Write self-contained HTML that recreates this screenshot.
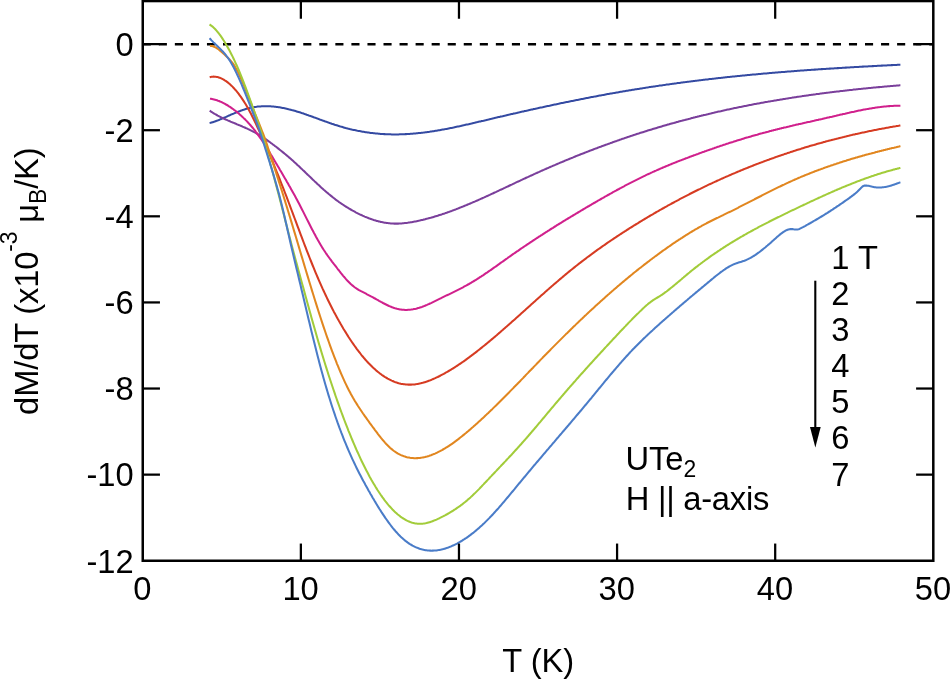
<!DOCTYPE html>
<html lang="en"><head><meta charset="utf-8"><title>dM/dT vs T for UTe2</title>
<style>html,body{margin:0;padding:0;background:#fff;overflow:hidden}svg{display:block;position:absolute;left:0;top:0}text{font-family:"Liberation Sans", Arial, Helvetica, sans-serif;fill:#000}</style></head><body>
<svg width="950" height="679" viewBox="0 0 950 679">
<rect x="0" y="0" width="950" height="679" fill="#fff"/>
<line x1="142.75" y1="44.22" x2="933.30" y2="44.22" stroke="#000" stroke-width="2.4" stroke-dasharray="8.1 7.95"/>
<g fill="none" stroke-width="2.05" stroke-linejoin="round" stroke-linecap="butt">
<path stroke="#344aa2" d="M209.6 123.0 L210.6 122.8 L211.6 122.5 L212.6 122.2 L213.6 121.9 L214.6 121.6 L215.6 121.2 L216.6 120.8 L217.6 120.5 L218.6 120.1 L219.6 119.7 L220.6 119.2 L221.6 118.8 L222.6 118.4 L223.6 118.0 L224.6 117.5 L225.6 117.1 L226.6 116.6 L227.6 116.2 L228.6 115.7 L229.6 115.3 L230.6 114.8 L231.6 114.4 L232.6 114.0 L233.6 113.6 L234.6 113.1 L235.6 112.7 L236.6 112.3 L237.6 111.9 L238.6 111.5 L239.6 111.2 L240.6 110.8 L241.6 110.4 L242.6 110.1 L243.6 109.8 L244.6 109.4 L245.6 109.1 L246.6 108.8 L247.6 108.6 L248.6 108.3 L249.6 108.1 L250.6 107.8 L251.6 107.6 L252.6 107.4 L253.6 107.2 L254.6 107.0 L255.6 106.9 L256.6 106.8 L257.6 106.6 L258.6 106.5 L259.6 106.4 L260.6 106.4 L261.6 106.3 L262.6 106.2 L263.6 106.2 L264.6 106.2 L265.6 106.2 L266.6 106.2 L267.6 106.2 L268.6 106.2 L269.6 106.3 L270.6 106.3 L271.6 106.4 L272.6 106.5 L273.6 106.6 L274.6 106.7 L275.6 106.8 L276.6 106.9 L277.6 107.0 L278.6 107.2 L279.6 107.3 L280.6 107.5 L281.6 107.7 L282.6 107.9 L283.6 108.1 L284.6 108.3 L285.6 108.5 L286.6 108.7 L287.6 108.9 L288.6 109.2 L289.6 109.4 L290.6 109.7 L291.6 110.0 L292.6 110.2 L293.6 110.5 L294.6 110.8 L295.6 111.1 L296.6 111.4 L297.6 111.7 L298.6 112.0 L299.6 112.3 L300.6 112.6 L301.6 113.0 L302.6 113.3 L303.6 113.6 L304.6 114.0 L305.6 114.3 L306.6 114.7 L307.6 115.0 L308.6 115.4 L309.6 115.7 L310.6 116.1 L311.6 116.4 L312.6 116.8 L313.6 117.2 L314.6 117.5 L315.6 117.9 L316.6 118.3 L317.6 118.6 L318.6 119.0 L319.6 119.4 L320.6 119.7 L321.6 120.1 L322.6 120.5 L323.6 120.8 L324.6 121.2 L325.6 121.5 L326.6 121.9 L327.6 122.3 L328.6 122.6 L329.6 123.0 L330.6 123.3 L331.6 123.7 L332.6 124.0 L333.6 124.3 L334.6 124.7 L335.6 125.0 L336.6 125.3 L337.6 125.6 L338.6 125.9 L339.6 126.3 L340.6 126.6 L341.6 126.8 L342.6 127.1 L343.6 127.4 L344.6 127.7 L345.6 128.0 L346.6 128.2 L347.6 128.5 L348.6 128.7 L349.6 129.0 L350.6 129.2 L351.6 129.5 L352.6 129.7 L353.6 129.9 L354.6 130.1 L355.6 130.3 L356.6 130.6 L357.6 130.8 L358.6 130.9 L359.6 131.1 L360.6 131.3 L361.6 131.5 L362.6 131.7 L363.6 131.8 L364.6 132.0 L365.6 132.2 L366.6 132.3 L367.6 132.5 L368.6 132.6 L369.6 132.7 L370.6 132.9 L371.6 133.0 L372.6 133.1 L373.6 133.2 L374.6 133.3 L375.6 133.4 L376.6 133.5 L377.6 133.6 L378.6 133.7 L379.6 133.8 L380.6 133.9 L381.6 133.9 L382.6 134.0 L383.6 134.1 L384.6 134.1 L385.6 134.2 L386.6 134.2 L387.6 134.2 L388.6 134.3 L389.6 134.3 L390.6 134.3 L391.6 134.4 L392.6 134.4 L393.6 134.4 L394.6 134.4 L395.6 134.4 L396.6 134.4 L397.6 134.4 L398.6 134.4 L399.6 134.3 L400.6 134.3 L401.6 134.3 L402.6 134.3 L403.6 134.2 L404.6 134.2 L405.6 134.1 L406.6 134.1 L407.6 134.0 L408.6 134.0 L409.6 133.9 L410.6 133.8 L411.6 133.8 L412.6 133.7 L413.6 133.6 L414.6 133.5 L415.6 133.4 L416.6 133.3 L417.6 133.2 L418.6 133.1 L419.6 133.0 L420.6 132.9 L421.6 132.8 L422.6 132.7 L423.6 132.6 L424.6 132.4 L425.6 132.3 L426.6 132.2 L427.6 132.0 L428.6 131.9 L429.6 131.8 L430.6 131.6 L431.6 131.5 L432.6 131.3 L433.6 131.2 L434.6 131.0 L435.6 130.8 L436.6 130.7 L437.6 130.5 L438.6 130.3 L439.6 130.2 L440.6 130.0 L441.6 129.8 L442.6 129.6 L443.6 129.4 L444.6 129.2 L445.6 129.1 L446.6 128.9 L447.6 128.7 L448.6 128.5 L449.6 128.3 L450.6 128.1 L451.6 127.9 L452.6 127.7 L453.6 127.5 L454.6 127.2 L455.6 127.0 L456.6 126.8 L457.6 126.6 L458.6 126.4 L459.6 126.2 L460.6 126.0 L461.6 125.7 L462.6 125.5 L463.6 125.3 L464.6 125.1 L465.6 124.8 L466.6 124.6 L467.6 124.4 L468.6 124.2 L469.6 123.9 L470.6 123.7 L471.6 123.5 L472.6 123.2 L473.6 123.0 L474.6 122.8 L475.6 122.5 L476.6 122.3 L477.6 122.1 L478.6 121.8 L479.6 121.6 L480.6 121.4 L481.6 121.1 L482.6 120.9 L483.6 120.7 L484.6 120.4 L485.6 120.2 L486.6 119.9 L487.6 119.7 L488.6 119.5 L489.6 119.2 L490.6 119.0 L491.6 118.8 L492.6 118.5 L493.6 118.3 L494.6 118.0 L495.6 117.8 L496.6 117.6 L497.6 117.3 L498.6 117.1 L499.6 116.9 L500.6 116.6 L501.6 116.4 L502.6 116.2 L503.6 115.9 L504.6 115.7 L505.6 115.5 L506.6 115.2 L507.6 115.0 L508.6 114.8 L509.6 114.6 L510.6 114.3 L511.6 114.1 L512.6 113.9 L513.6 113.6 L514.6 113.4 L515.6 113.2 L516.6 113.0 L517.6 112.7 L518.6 112.5 L519.6 112.3 L520.6 112.0 L521.6 111.8 L522.6 111.6 L523.6 111.4 L524.6 111.1 L525.6 110.9 L526.6 110.7 L527.6 110.5 L528.6 110.2 L529.6 110.0 L530.6 109.8 L531.6 109.6 L532.6 109.4 L533.6 109.1 L534.6 108.9 L535.6 108.7 L536.6 108.5 L537.6 108.3 L538.6 108.0 L539.6 107.8 L540.6 107.6 L541.6 107.4 L542.6 107.2 L543.6 106.9 L544.6 106.7 L545.6 106.5 L546.6 106.3 L547.6 106.1 L548.6 105.9 L549.6 105.7 L550.6 105.4 L551.6 105.2 L552.6 105.0 L553.6 104.8 L554.6 104.6 L555.6 104.4 L556.6 104.2 L557.6 104.0 L558.6 103.8 L559.6 103.5 L560.6 103.3 L561.6 103.1 L562.6 102.9 L563.6 102.7 L564.6 102.5 L565.6 102.3 L566.6 102.1 L567.6 101.9 L568.6 101.7 L569.6 101.5 L570.6 101.3 L571.6 101.1 L572.6 100.9 L573.6 100.7 L574.6 100.5 L575.6 100.3 L576.6 100.1 L577.6 99.9 L578.6 99.7 L579.6 99.5 L580.6 99.3 L581.6 99.1 L582.6 98.9 L583.6 98.7 L584.6 98.5 L585.6 98.3 L586.6 98.1 L587.6 97.9 L588.6 97.7 L589.6 97.5 L590.6 97.3 L591.6 97.1 L592.6 96.9 L593.6 96.7 L594.6 96.6 L595.6 96.4 L596.6 96.2 L597.6 96.0 L598.6 95.8 L599.6 95.6 L600.6 95.4 L601.6 95.2 L602.6 95.1 L603.6 94.9 L604.6 94.7 L605.6 94.5 L606.6 94.3 L607.6 94.1 L608.6 94.0 L609.6 93.8 L610.6 93.6 L611.6 93.4 L612.6 93.2 L613.6 93.1 L614.6 92.9 L615.6 92.7 L616.6 92.5 L617.6 92.4 L618.6 92.2 L619.6 92.0 L620.6 91.8 L621.6 91.7 L622.6 91.5 L623.6 91.3 L624.6 91.2 L625.6 91.0 L626.6 90.8 L627.6 90.7 L628.6 90.5 L629.6 90.3 L630.6 90.2 L631.6 90.0 L632.6 89.8 L633.6 89.7 L634.6 89.5 L635.6 89.3 L636.6 89.2 L637.6 89.0 L638.6 88.9 L639.6 88.7 L640.6 88.5 L641.6 88.4 L642.6 88.2 L643.6 88.1 L644.6 87.9 L645.6 87.7 L646.6 87.6 L647.6 87.4 L648.6 87.3 L649.6 87.1 L650.6 87.0 L651.6 86.8 L652.6 86.7 L653.6 86.5 L654.6 86.4 L655.6 86.2 L656.6 86.1 L657.6 85.9 L658.6 85.8 L659.6 85.6 L660.6 85.5 L661.6 85.4 L662.6 85.2 L663.6 85.1 L664.6 84.9 L665.6 84.8 L666.6 84.6 L667.6 84.5 L668.6 84.4 L669.6 84.2 L670.6 84.1 L671.6 83.9 L672.6 83.8 L673.6 83.7 L674.6 83.5 L675.6 83.4 L676.6 83.3 L677.6 83.1 L678.6 83.0 L679.6 82.9 L680.6 82.7 L681.6 82.6 L682.6 82.5 L683.6 82.3 L684.6 82.2 L685.6 82.1 L686.6 81.9 L687.6 81.8 L688.6 81.7 L689.6 81.6 L690.6 81.4 L691.6 81.3 L692.6 81.2 L693.6 81.0 L694.6 80.9 L695.6 80.8 L696.6 80.7 L697.6 80.6 L698.6 80.4 L699.6 80.3 L700.6 80.2 L701.6 80.1 L702.6 79.9 L703.6 79.8 L704.6 79.7 L705.6 79.6 L706.6 79.5 L707.6 79.4 L708.6 79.2 L709.6 79.1 L710.6 79.0 L711.6 78.9 L712.6 78.8 L713.6 78.7 L714.6 78.6 L715.6 78.4 L716.6 78.3 L717.6 78.2 L718.6 78.1 L719.6 78.0 L720.6 77.9 L721.6 77.8 L722.6 77.7 L723.6 77.6 L724.6 77.5 L725.6 77.3 L726.6 77.2 L727.6 77.1 L728.6 77.0 L729.6 76.9 L730.6 76.8 L731.6 76.7 L732.6 76.6 L733.6 76.5 L734.6 76.4 L735.6 76.3 L736.6 76.2 L737.6 76.1 L738.6 76.0 L739.6 75.9 L740.6 75.8 L741.6 75.7 L742.6 75.6 L743.6 75.5 L744.6 75.4 L745.6 75.3 L746.6 75.2 L747.6 75.1 L748.6 75.0 L749.6 74.9 L750.6 74.8 L751.6 74.7 L752.6 74.6 L753.6 74.5 L754.6 74.4 L755.6 74.4 L756.6 74.3 L757.6 74.2 L758.6 74.1 L759.6 74.0 L760.6 73.9 L761.6 73.8 L762.6 73.7 L763.6 73.6 L764.6 73.5 L765.6 73.5 L766.6 73.4 L767.6 73.3 L768.6 73.2 L769.6 73.1 L770.6 73.0 L771.6 72.9 L772.6 72.8 L773.6 72.8 L774.6 72.7 L775.6 72.6 L776.6 72.5 L777.6 72.4 L778.6 72.3 L779.6 72.3 L780.6 72.2 L781.6 72.1 L782.6 72.0 L783.6 71.9 L784.6 71.9 L785.6 71.8 L786.6 71.7 L787.6 71.6 L788.6 71.5 L789.6 71.5 L790.6 71.4 L791.6 71.3 L792.6 71.2 L793.6 71.2 L794.6 71.1 L795.6 71.0 L796.6 70.9 L797.6 70.8 L798.6 70.8 L799.6 70.7 L800.6 70.6 L801.6 70.5 L802.6 70.5 L803.6 70.4 L804.6 70.3 L805.6 70.3 L806.6 70.2 L807.6 70.1 L808.6 70.0 L809.6 70.0 L810.6 69.9 L811.6 69.8 L812.6 69.8 L813.6 69.7 L814.6 69.6 L815.6 69.6 L816.6 69.5 L817.6 69.4 L818.6 69.3 L819.6 69.3 L820.6 69.2 L821.6 69.1 L822.6 69.1 L823.6 69.0 L824.6 68.9 L825.6 68.9 L826.6 68.8 L827.6 68.7 L828.6 68.7 L829.6 68.6 L830.6 68.6 L831.6 68.5 L832.6 68.4 L833.6 68.4 L834.6 68.3 L835.6 68.2 L836.6 68.2 L837.6 68.1 L838.6 68.1 L839.6 68.0 L840.6 67.9 L841.6 67.9 L842.6 67.8 L843.6 67.7 L844.6 67.7 L845.6 67.6 L846.6 67.6 L847.6 67.5 L848.6 67.4 L849.6 67.4 L850.6 67.3 L851.6 67.3 L852.6 67.2 L853.6 67.2 L854.6 67.1 L855.6 67.0 L856.6 67.0 L857.6 66.9 L858.6 66.9 L859.6 66.8 L860.6 66.8 L861.6 66.7 L862.6 66.6 L863.6 66.6 L864.6 66.5 L865.6 66.5 L866.6 66.4 L867.6 66.4 L868.6 66.3 L869.6 66.3 L870.6 66.2 L871.6 66.2 L872.6 66.1 L873.6 66.1 L874.6 66.0 L875.6 65.9 L876.6 65.9 L877.6 65.8 L878.6 65.8 L879.6 65.7 L880.6 65.7 L881.6 65.6 L882.6 65.6 L883.6 65.5 L884.6 65.5 L885.6 65.4 L886.6 65.4 L887.6 65.3 L888.6 65.3 L889.6 65.2 L890.6 65.2 L891.6 65.1 L892.6 65.1 L893.6 65.0 L894.6 65.0 L895.6 64.9 L896.6 64.9 L897.6 64.8 L898.6 64.8 L899.6 64.7 L900.4 64.7"/>
<path stroke="#7a3f9b" d="M209.7 110.7 L210.7 111.4 L211.7 112.0 L212.7 112.7 L213.7 113.3 L214.7 113.9 L215.7 114.4 L216.7 115.0 L217.7 115.6 L218.7 116.1 L219.7 116.6 L220.7 117.1 L221.7 117.6 L222.7 118.1 L223.7 118.6 L224.7 119.0 L225.7 119.5 L226.7 119.9 L227.7 120.4 L228.7 120.8 L229.7 121.2 L230.7 121.7 L231.7 122.1 L232.7 122.5 L233.7 122.9 L234.7 123.3 L235.7 123.7 L236.7 124.2 L237.7 124.6 L238.7 125.0 L239.7 125.4 L240.7 125.8 L241.7 126.2 L242.7 126.7 L243.7 127.1 L244.7 127.5 L245.7 128.0 L246.7 128.4 L247.7 128.9 L248.7 129.3 L249.7 129.8 L250.7 130.3 L251.7 130.8 L252.7 131.3 L253.7 131.9 L254.7 132.4 L255.7 132.9 L256.7 133.5 L257.7 134.1 L258.7 134.7 L259.7 135.3 L260.7 135.9 L261.7 136.6 L262.7 137.2 L263.7 137.9 L264.7 138.5 L265.7 139.2 L266.7 139.9 L267.7 140.6 L268.7 141.3 L269.7 142.0 L270.7 142.8 L271.7 143.5 L272.7 144.3 L273.7 145.0 L274.7 145.8 L275.7 146.5 L276.7 147.3 L277.7 148.1 L278.7 148.9 L279.7 149.7 L280.7 150.5 L281.7 151.3 L282.7 152.1 L283.7 152.9 L284.7 153.7 L285.7 154.5 L286.7 155.4 L287.7 156.2 L288.7 157.1 L289.7 157.9 L290.7 158.8 L291.7 159.7 L292.7 160.6 L293.7 161.5 L294.7 162.4 L295.7 163.3 L296.7 164.2 L297.7 165.2 L298.7 166.1 L299.7 167.0 L300.7 168.0 L301.7 168.9 L302.7 169.9 L303.7 170.8 L304.7 171.8 L305.7 172.8 L306.7 173.7 L307.7 174.7 L308.7 175.6 L309.7 176.6 L310.7 177.5 L311.7 178.5 L312.7 179.5 L313.7 180.4 L314.7 181.4 L315.7 182.3 L316.7 183.2 L317.7 184.2 L318.7 185.1 L319.7 186.0 L320.7 187.0 L321.7 187.9 L322.7 188.8 L323.7 189.7 L324.7 190.5 L325.7 191.4 L326.7 192.3 L327.7 193.1 L328.7 194.0 L329.7 194.8 L330.7 195.6 L331.7 196.4 L332.7 197.2 L333.7 198.0 L334.7 198.8 L335.7 199.6 L336.7 200.3 L337.7 201.0 L338.7 201.8 L339.7 202.5 L340.7 203.2 L341.7 203.8 L342.7 204.5 L343.7 205.2 L344.7 205.8 L345.7 206.5 L346.7 207.1 L347.7 207.7 L348.7 208.3 L349.7 208.9 L350.7 209.5 L351.7 210.1 L352.7 210.7 L353.7 211.2 L354.7 211.7 L355.7 212.3 L356.7 212.8 L357.7 213.3 L358.7 213.8 L359.7 214.3 L360.7 214.8 L361.7 215.2 L362.7 215.7 L363.7 216.1 L364.7 216.6 L365.7 217.0 L366.7 217.4 L367.7 217.8 L368.7 218.2 L369.7 218.6 L370.7 218.9 L371.7 219.3 L372.7 219.6 L373.7 220.0 L374.7 220.3 L375.7 220.6 L376.7 220.9 L377.7 221.1 L378.7 221.4 L379.7 221.6 L380.7 221.9 L381.7 222.1 L382.7 222.3 L383.7 222.5 L384.7 222.7 L385.7 222.8 L386.7 223.0 L387.7 223.1 L388.7 223.2 L389.7 223.3 L390.7 223.4 L391.7 223.5 L392.7 223.5 L393.7 223.6 L394.7 223.6 L395.7 223.6 L396.7 223.6 L397.7 223.6 L398.7 223.6 L399.7 223.5 L400.7 223.5 L401.7 223.4 L402.7 223.3 L403.7 223.2 L404.7 223.1 L405.7 223.0 L406.7 222.9 L407.7 222.8 L408.7 222.6 L409.7 222.5 L410.7 222.3 L411.7 222.2 L412.7 222.0 L413.7 221.8 L414.7 221.6 L415.7 221.4 L416.7 221.2 L417.7 221.0 L418.7 220.8 L419.7 220.6 L420.7 220.3 L421.7 220.1 L422.7 219.9 L423.7 219.6 L424.7 219.4 L425.7 219.1 L426.7 218.8 L427.7 218.6 L428.7 218.3 L429.7 218.0 L430.7 217.8 L431.7 217.5 L432.7 217.2 L433.7 216.9 L434.7 216.6 L435.7 216.3 L436.7 216.0 L437.7 215.7 L438.7 215.3 L439.7 215.0 L440.7 214.7 L441.7 214.4 L442.7 214.0 L443.7 213.7 L444.7 213.4 L445.7 213.0 L446.7 212.7 L447.7 212.3 L448.7 212.0 L449.7 211.6 L450.7 211.2 L451.7 210.9 L452.7 210.5 L453.7 210.1 L454.7 209.7 L455.7 209.4 L456.7 209.0 L457.7 208.6 L458.7 208.2 L459.7 207.8 L460.7 207.4 L461.7 207.0 L462.7 206.6 L463.7 206.2 L464.7 205.8 L465.7 205.4 L466.7 205.0 L467.7 204.5 L468.7 204.1 L469.7 203.7 L470.7 203.3 L471.7 202.9 L472.7 202.4 L473.7 202.0 L474.7 201.6 L475.7 201.1 L476.7 200.7 L477.7 200.3 L478.7 199.8 L479.7 199.4 L480.7 198.9 L481.7 198.5 L482.7 198.0 L483.7 197.6 L484.7 197.1 L485.7 196.7 L486.7 196.2 L487.7 195.8 L488.7 195.3 L489.7 194.9 L490.7 194.4 L491.7 193.9 L492.7 193.5 L493.7 193.0 L494.7 192.5 L495.7 192.1 L496.7 191.6 L497.7 191.1 L498.7 190.7 L499.7 190.2 L500.7 189.7 L501.7 189.3 L502.7 188.8 L503.7 188.3 L504.7 187.9 L505.7 187.4 L506.7 186.9 L507.7 186.5 L508.7 186.0 L509.7 185.5 L510.7 185.0 L511.7 184.6 L512.7 184.1 L513.7 183.6 L514.7 183.2 L515.7 182.7 L516.7 182.2 L517.7 181.7 L518.7 181.3 L519.7 180.8 L520.7 180.3 L521.7 179.9 L522.7 179.4 L523.7 178.9 L524.7 178.5 L525.7 178.0 L526.7 177.5 L527.7 177.1 L528.7 176.6 L529.7 176.2 L530.7 175.7 L531.7 175.3 L532.7 174.8 L533.7 174.3 L534.7 173.9 L535.7 173.4 L536.7 173.0 L537.7 172.5 L538.7 172.1 L539.7 171.6 L540.7 171.2 L541.7 170.7 L542.7 170.3 L543.7 169.9 L544.7 169.4 L545.7 169.0 L546.7 168.5 L547.7 168.1 L548.7 167.7 L549.7 167.2 L550.7 166.8 L551.7 166.4 L552.7 165.9 L553.7 165.5 L554.7 165.1 L555.7 164.6 L556.7 164.2 L557.7 163.8 L558.7 163.4 L559.7 162.9 L560.7 162.5 L561.7 162.1 L562.7 161.7 L563.7 161.3 L564.7 160.8 L565.7 160.4 L566.7 160.0 L567.7 159.6 L568.7 159.2 L569.7 158.8 L570.7 158.4 L571.7 158.0 L572.7 157.6 L573.7 157.1 L574.7 156.7 L575.7 156.3 L576.7 155.9 L577.7 155.5 L578.7 155.1 L579.7 154.7 L580.7 154.3 L581.7 153.9 L582.7 153.6 L583.7 153.2 L584.7 152.8 L585.7 152.4 L586.7 152.0 L587.7 151.6 L588.7 151.2 L589.7 150.8 L590.7 150.4 L591.7 150.1 L592.7 149.7 L593.7 149.3 L594.7 148.9 L595.7 148.5 L596.7 148.2 L597.7 147.8 L598.7 147.4 L599.7 147.0 L600.7 146.7 L601.7 146.3 L602.7 145.9 L603.7 145.6 L604.7 145.2 L605.7 144.8 L606.7 144.5 L607.7 144.1 L608.7 143.7 L609.7 143.4 L610.7 143.0 L611.7 142.7 L612.7 142.3 L613.7 141.9 L614.7 141.6 L615.7 141.2 L616.7 140.9 L617.7 140.5 L618.7 140.2 L619.7 139.8 L620.7 139.5 L621.7 139.1 L622.7 138.8 L623.7 138.5 L624.7 138.1 L625.7 137.8 L626.7 137.4 L627.7 137.1 L628.7 136.8 L629.7 136.4 L630.7 136.1 L631.7 135.8 L632.7 135.4 L633.7 135.1 L634.7 134.8 L635.7 134.4 L636.7 134.1 L637.7 133.8 L638.7 133.5 L639.7 133.1 L640.7 132.8 L641.7 132.5 L642.7 132.2 L643.7 131.9 L644.7 131.6 L645.7 131.2 L646.7 130.9 L647.7 130.6 L648.7 130.3 L649.7 130.0 L650.7 129.7 L651.7 129.4 L652.7 129.1 L653.7 128.8 L654.7 128.5 L655.7 128.2 L656.7 127.9 L657.7 127.6 L658.7 127.3 L659.7 127.0 L660.7 126.7 L661.7 126.4 L662.7 126.1 L663.7 125.8 L664.7 125.5 L665.7 125.2 L666.7 124.9 L667.7 124.6 L668.7 124.4 L669.7 124.1 L670.7 123.8 L671.7 123.5 L672.7 123.2 L673.7 123.0 L674.7 122.7 L675.7 122.4 L676.7 122.1 L677.7 121.9 L678.7 121.6 L679.7 121.3 L680.7 121.0 L681.7 120.8 L682.7 120.5 L683.7 120.2 L684.7 120.0 L685.7 119.7 L686.7 119.4 L687.7 119.2 L688.7 118.9 L689.7 118.7 L690.7 118.4 L691.7 118.1 L692.7 117.9 L693.7 117.6 L694.7 117.4 L695.7 117.1 L696.7 116.9 L697.7 116.6 L698.7 116.4 L699.7 116.1 L700.7 115.9 L701.7 115.6 L702.7 115.4 L703.7 115.1 L704.7 114.9 L705.7 114.7 L706.7 114.4 L707.7 114.2 L708.7 113.9 L709.7 113.7 L710.7 113.5 L711.7 113.2 L712.7 113.0 L713.7 112.8 L714.7 112.5 L715.7 112.3 L716.7 112.1 L717.7 111.8 L718.7 111.6 L719.7 111.4 L720.7 111.2 L721.7 110.9 L722.7 110.7 L723.7 110.5 L724.7 110.3 L725.7 110.1 L726.7 109.8 L727.7 109.6 L728.7 109.4 L729.7 109.2 L730.7 109.0 L731.7 108.8 L732.7 108.6 L733.7 108.3 L734.7 108.1 L735.7 107.9 L736.7 107.7 L737.7 107.5 L738.7 107.3 L739.7 107.1 L740.7 106.9 L741.7 106.7 L742.7 106.5 L743.7 106.3 L744.7 106.1 L745.7 105.9 L746.7 105.7 L747.7 105.5 L748.7 105.3 L749.7 105.1 L750.7 104.9 L751.7 104.7 L752.7 104.5 L753.7 104.3 L754.7 104.1 L755.7 104.0 L756.7 103.8 L757.7 103.6 L758.7 103.4 L759.7 103.2 L760.7 103.0 L761.7 102.8 L762.7 102.7 L763.7 102.5 L764.7 102.3 L765.7 102.1 L766.7 101.9 L767.7 101.8 L768.7 101.6 L769.7 101.4 L770.7 101.2 L771.7 101.1 L772.7 100.9 L773.7 100.7 L774.7 100.5 L775.7 100.4 L776.7 100.2 L777.7 100.0 L778.7 99.9 L779.7 99.7 L780.7 99.5 L781.7 99.4 L782.7 99.2 L783.7 99.0 L784.7 98.9 L785.7 98.7 L786.7 98.6 L787.7 98.4 L788.7 98.2 L789.7 98.1 L790.7 97.9 L791.7 97.8 L792.7 97.6 L793.7 97.5 L794.7 97.3 L795.7 97.2 L796.7 97.0 L797.7 96.8 L798.7 96.7 L799.7 96.6 L800.7 96.4 L801.7 96.3 L802.7 96.1 L803.7 96.0 L804.7 95.8 L805.7 95.7 L806.7 95.5 L807.7 95.4 L808.7 95.2 L809.7 95.1 L810.7 95.0 L811.7 94.8 L812.7 94.7 L813.7 94.5 L814.7 94.4 L815.7 94.3 L816.7 94.1 L817.7 94.0 L818.7 93.9 L819.7 93.7 L820.7 93.6 L821.7 93.5 L822.7 93.3 L823.7 93.2 L824.7 93.1 L825.7 93.0 L826.7 92.8 L827.7 92.7 L828.7 92.6 L829.7 92.4 L830.7 92.3 L831.7 92.2 L832.7 92.1 L833.7 92.0 L834.7 91.8 L835.7 91.7 L836.7 91.6 L837.7 91.5 L838.7 91.4 L839.7 91.2 L840.7 91.1 L841.7 91.0 L842.7 90.9 L843.7 90.8 L844.7 90.7 L845.7 90.5 L846.7 90.4 L847.7 90.3 L848.7 90.2 L849.7 90.1 L850.7 90.0 L851.7 89.9 L852.7 89.8 L853.7 89.6 L854.7 89.5 L855.7 89.4 L856.7 89.3 L857.7 89.2 L858.7 89.1 L859.7 89.0 L860.7 88.9 L861.7 88.8 L862.7 88.7 L863.7 88.6 L864.7 88.5 L865.7 88.4 L866.7 88.3 L867.7 88.2 L868.7 88.1 L869.7 88.0 L870.7 87.9 L871.7 87.8 L872.7 87.7 L873.7 87.6 L874.7 87.5 L875.7 87.4 L876.7 87.3 L877.7 87.2 L878.7 87.1 L879.7 87.1 L880.7 87.0 L881.7 86.9 L882.7 86.8 L883.7 86.7 L884.7 86.6 L885.7 86.5 L886.7 86.4 L887.7 86.3 L888.7 86.2 L889.7 86.2 L890.7 86.1 L891.7 86.0 L892.7 85.9 L893.7 85.8 L894.7 85.7 L895.7 85.7 L896.7 85.6 L897.7 85.5 L898.7 85.4 L899.7 85.3 L900.4 85.3"/>
<path stroke="#d0208c" d="M210.0 98.7 L211.0 98.8 L212.0 99.0 L213.0 99.2 L214.0 99.4 L215.0 99.7 L216.0 100.0 L217.0 100.3 L218.0 100.7 L219.0 101.0 L220.0 101.5 L221.0 101.9 L222.0 102.3 L223.0 102.8 L224.0 103.3 L225.0 103.9 L226.0 104.5 L227.0 105.0 L228.0 105.6 L229.0 106.3 L230.0 106.9 L231.0 107.6 L232.0 108.3 L233.0 109.0 L234.0 109.8 L235.0 110.5 L236.0 111.3 L237.0 112.1 L238.0 113.0 L239.0 113.8 L240.0 114.7 L241.0 115.6 L242.0 116.5 L243.0 117.4 L244.0 118.4 L245.0 119.3 L246.0 120.4 L247.0 121.4 L248.0 122.5 L249.0 123.6 L250.0 124.7 L251.0 125.8 L252.0 127.0 L253.0 128.2 L254.0 129.5 L255.0 130.7 L256.0 132.1 L257.0 133.4 L258.0 134.8 L259.0 136.2 L260.0 137.6 L261.0 139.0 L262.0 140.5 L263.0 142.0 L264.0 143.5 L265.0 145.1 L266.0 146.6 L267.0 148.2 L268.0 149.8 L269.0 151.4 L270.0 153.0 L271.0 154.7 L272.0 156.3 L273.0 158.0 L274.0 159.7 L275.0 161.4 L276.0 163.1 L277.0 164.7 L278.0 166.4 L279.0 168.1 L280.0 169.9 L281.0 171.6 L282.0 173.3 L283.0 175.0 L284.0 176.7 L285.0 178.4 L286.0 180.1 L287.0 181.9 L288.0 183.6 L289.0 185.4 L290.0 187.1 L291.0 188.9 L292.0 190.7 L293.0 192.5 L294.0 194.3 L295.0 196.1 L296.0 197.9 L297.0 199.8 L298.0 201.7 L299.0 203.6 L300.0 205.5 L301.0 207.5 L302.0 209.4 L303.0 211.4 L304.0 213.4 L305.0 215.4 L306.0 217.4 L307.0 219.4 L308.0 221.3 L309.0 223.3 L310.0 225.3 L311.0 227.2 L312.0 229.2 L313.0 231.1 L314.0 233.0 L315.0 234.8 L316.0 236.7 L317.0 238.5 L318.0 240.3 L319.0 242.0 L320.0 243.7 L321.0 245.4 L322.0 247.1 L323.0 248.7 L324.0 250.3 L325.0 251.8 L326.0 253.3 L327.0 254.7 L328.0 256.2 L329.0 257.5 L330.0 258.9 L331.0 260.2 L332.0 261.6 L333.0 262.9 L334.0 264.2 L335.0 265.4 L336.0 266.7 L337.0 268.0 L338.0 269.3 L339.0 270.5 L340.0 271.8 L341.0 273.1 L342.0 274.3 L343.0 275.6 L344.0 276.8 L345.0 277.9 L346.0 279.1 L347.0 280.2 L348.0 281.2 L349.0 282.2 L350.0 283.2 L351.0 284.2 L352.0 285.1 L353.0 285.9 L354.0 286.7 L355.0 287.5 L356.0 288.2 L357.0 288.8 L358.0 289.5 L359.0 290.1 L360.0 290.6 L361.0 291.2 L362.0 291.7 L363.0 292.2 L364.0 292.7 L365.0 293.2 L366.0 293.7 L367.0 294.3 L368.0 294.8 L369.0 295.3 L370.0 295.8 L371.0 296.4 L372.0 296.9 L373.0 297.4 L374.0 298.0 L375.0 298.5 L376.0 299.1 L377.0 299.7 L378.0 300.2 L379.0 300.8 L380.0 301.3 L381.0 301.9 L382.0 302.4 L383.0 303.0 L384.0 303.5 L385.0 304.0 L386.0 304.5 L387.0 305.0 L388.0 305.5 L389.0 306.0 L390.0 306.4 L391.0 306.8 L392.0 307.2 L393.0 307.6 L394.0 307.9 L395.0 308.3 L396.0 308.5 L397.0 308.8 L398.0 309.0 L399.0 309.2 L400.0 309.4 L401.0 309.5 L402.0 309.7 L403.0 309.8 L404.0 309.8 L405.0 309.9 L406.0 309.9 L407.0 309.9 L408.0 309.8 L409.0 309.8 L410.0 309.7 L411.0 309.6 L412.0 309.4 L413.0 309.3 L414.0 309.1 L415.0 308.9 L416.0 308.7 L417.0 308.4 L418.0 308.1 L419.0 307.9 L420.0 307.5 L421.0 307.2 L422.0 306.9 L423.0 306.5 L424.0 306.1 L425.0 305.7 L426.0 305.3 L427.0 304.9 L428.0 304.4 L429.0 304.0 L430.0 303.5 L431.0 303.1 L432.0 302.6 L433.0 302.1 L434.0 301.6 L435.0 301.1 L436.0 300.6 L437.0 300.1 L438.0 299.6 L439.0 299.1 L440.0 298.6 L441.0 298.2 L442.0 297.7 L443.0 297.2 L444.0 296.7 L445.0 296.2 L446.0 295.7 L447.0 295.2 L448.0 294.8 L449.0 294.3 L450.0 293.8 L451.0 293.3 L452.0 292.8 L453.0 292.3 L454.0 291.8 L455.0 291.3 L456.0 290.8 L457.0 290.3 L458.0 289.8 L459.0 289.3 L460.0 288.8 L461.0 288.3 L462.0 287.8 L463.0 287.3 L464.0 286.7 L465.0 286.2 L466.0 285.7 L467.0 285.1 L468.0 284.5 L469.0 284.0 L470.0 283.4 L471.0 282.8 L472.0 282.2 L473.0 281.6 L474.0 281.0 L475.0 280.4 L476.0 279.8 L477.0 279.2 L478.0 278.5 L479.0 277.9 L480.0 277.2 L481.0 276.6 L482.0 275.9 L483.0 275.3 L484.0 274.6 L485.0 273.9 L486.0 273.2 L487.0 272.6 L488.0 271.9 L489.0 271.2 L490.0 270.5 L491.0 269.8 L492.0 269.1 L493.0 268.4 L494.0 267.7 L495.0 267.0 L496.0 266.3 L497.0 265.6 L498.0 264.9 L499.0 264.2 L500.0 263.4 L501.0 262.7 L502.0 262.0 L503.0 261.3 L504.0 260.6 L505.0 259.9 L506.0 259.2 L507.0 258.5 L508.0 257.7 L509.0 257.0 L510.0 256.3 L511.0 255.6 L512.0 254.9 L513.0 254.2 L514.0 253.5 L515.0 252.8 L516.0 252.1 L517.0 251.4 L518.0 250.8 L519.0 250.1 L520.0 249.4 L521.0 248.7 L522.0 248.0 L523.0 247.3 L524.0 246.7 L525.0 246.0 L526.0 245.3 L527.0 244.6 L528.0 244.0 L529.0 243.3 L530.0 242.6 L531.0 242.0 L532.0 241.3 L533.0 240.6 L534.0 240.0 L535.0 239.3 L536.0 238.7 L537.0 238.0 L538.0 237.4 L539.0 236.7 L540.0 236.1 L541.0 235.4 L542.0 234.8 L543.0 234.1 L544.0 233.5 L545.0 232.8 L546.0 232.2 L547.0 231.6 L548.0 230.9 L549.0 230.3 L550.0 229.6 L551.0 229.0 L552.0 228.4 L553.0 227.8 L554.0 227.1 L555.0 226.5 L556.0 225.9 L557.0 225.2 L558.0 224.6 L559.0 224.0 L560.0 223.4 L561.0 222.8 L562.0 222.2 L563.0 221.5 L564.0 220.9 L565.0 220.3 L566.0 219.7 L567.0 219.1 L568.0 218.5 L569.0 217.9 L570.0 217.3 L571.0 216.7 L572.0 216.1 L573.0 215.5 L574.0 214.9 L575.0 214.3 L576.0 213.7 L577.0 213.1 L578.0 212.5 L579.0 211.9 L580.0 211.3 L581.0 210.7 L582.0 210.1 L583.0 209.5 L584.0 208.9 L585.0 208.3 L586.0 207.7 L587.0 207.1 L588.0 206.5 L589.0 206.0 L590.0 205.4 L591.0 204.8 L592.0 204.2 L593.0 203.6 L594.0 203.0 L595.0 202.5 L596.0 201.9 L597.0 201.3 L598.0 200.7 L599.0 200.2 L600.0 199.6 L601.0 199.0 L602.0 198.4 L603.0 197.9 L604.0 197.3 L605.0 196.7 L606.0 196.2 L607.0 195.6 L608.0 195.0 L609.0 194.5 L610.0 193.9 L611.0 193.4 L612.0 192.8 L613.0 192.2 L614.0 191.7 L615.0 191.1 L616.0 190.6 L617.0 190.0 L618.0 189.5 L619.0 189.0 L620.0 188.4 L621.0 187.9 L622.0 187.3 L623.0 186.8 L624.0 186.3 L625.0 185.7 L626.0 185.2 L627.0 184.7 L628.0 184.2 L629.0 183.6 L630.0 183.1 L631.0 182.6 L632.0 182.1 L633.0 181.6 L634.0 181.1 L635.0 180.6 L636.0 180.1 L637.0 179.6 L638.0 179.1 L639.0 178.6 L640.0 178.1 L641.0 177.6 L642.0 177.1 L643.0 176.6 L644.0 176.1 L645.0 175.7 L646.0 175.2 L647.0 174.7 L648.0 174.2 L649.0 173.8 L650.0 173.3 L651.0 172.8 L652.0 172.4 L653.0 171.9 L654.0 171.5 L655.0 171.0 L656.0 170.6 L657.0 170.1 L658.0 169.7 L659.0 169.3 L660.0 168.8 L661.0 168.4 L662.0 168.0 L663.0 167.5 L664.0 167.1 L665.0 166.7 L666.0 166.3 L667.0 165.9 L668.0 165.5 L669.0 165.0 L670.0 164.6 L671.0 164.2 L672.0 163.8 L673.0 163.4 L674.0 163.0 L675.0 162.6 L676.0 162.2 L677.0 161.8 L678.0 161.4 L679.0 161.0 L680.0 160.6 L681.0 160.3 L682.0 159.9 L683.0 159.5 L684.0 159.1 L685.0 158.7 L686.0 158.3 L687.0 158.0 L688.0 157.6 L689.0 157.2 L690.0 156.8 L691.0 156.4 L692.0 156.1 L693.0 155.7 L694.0 155.3 L695.0 155.0 L696.0 154.6 L697.0 154.2 L698.0 153.9 L699.0 153.5 L700.0 153.1 L701.0 152.8 L702.0 152.4 L703.0 152.0 L704.0 151.7 L705.0 151.3 L706.0 151.0 L707.0 150.6 L708.0 150.3 L709.0 149.9 L710.0 149.6 L711.0 149.2 L712.0 148.9 L713.0 148.5 L714.0 148.2 L715.0 147.8 L716.0 147.5 L717.0 147.1 L718.0 146.8 L719.0 146.5 L720.0 146.1 L721.0 145.8 L722.0 145.5 L723.0 145.1 L724.0 144.8 L725.0 144.5 L726.0 144.1 L727.0 143.8 L728.0 143.5 L729.0 143.1 L730.0 142.8 L731.0 142.5 L732.0 142.2 L733.0 141.9 L734.0 141.5 L735.0 141.2 L736.0 140.9 L737.0 140.6 L738.0 140.3 L739.0 140.0 L740.0 139.7 L741.0 139.4 L742.0 139.1 L743.0 138.7 L744.0 138.4 L745.0 138.1 L746.0 137.8 L747.0 137.5 L748.0 137.3 L749.0 137.0 L750.0 136.7 L751.0 136.4 L752.0 136.1 L753.0 135.8 L754.0 135.5 L755.0 135.2 L756.0 134.9 L757.0 134.7 L758.0 134.4 L759.0 134.1 L760.0 133.8 L761.0 133.5 L762.0 133.3 L763.0 133.0 L764.0 132.7 L765.0 132.5 L766.0 132.2 L767.0 131.9 L768.0 131.7 L769.0 131.4 L770.0 131.1 L771.0 130.9 L772.0 130.6 L773.0 130.4 L774.0 130.1 L775.0 129.9 L776.0 129.6 L777.0 129.4 L778.0 129.1 L779.0 128.9 L780.0 128.6 L781.0 128.4 L782.0 128.1 L783.0 127.9 L784.0 127.6 L785.0 127.4 L786.0 127.2 L787.0 126.9 L788.0 126.7 L789.0 126.5 L790.0 126.2 L791.0 126.0 L792.0 125.8 L793.0 125.5 L794.0 125.3 L795.0 125.1 L796.0 124.8 L797.0 124.6 L798.0 124.4 L799.0 124.1 L800.0 123.9 L801.0 123.7 L802.0 123.5 L803.0 123.2 L804.0 123.0 L805.0 122.8 L806.0 122.6 L807.0 122.3 L808.0 122.1 L809.0 121.9 L810.0 121.7 L811.0 121.4 L812.0 121.2 L813.0 121.0 L814.0 120.8 L815.0 120.5 L816.0 120.3 L817.0 120.1 L818.0 119.9 L819.0 119.6 L820.0 119.4 L821.0 119.2 L822.0 119.0 L823.0 118.7 L824.0 118.5 L825.0 118.3 L826.0 118.1 L827.0 117.8 L828.0 117.6 L829.0 117.4 L830.0 117.1 L831.0 116.9 L832.0 116.7 L833.0 116.4 L834.0 116.2 L835.0 116.0 L836.0 115.8 L837.0 115.5 L838.0 115.3 L839.0 115.1 L840.0 114.8 L841.0 114.6 L842.0 114.4 L843.0 114.1 L844.0 113.9 L845.0 113.7 L846.0 113.4 L847.0 113.2 L848.0 113.0 L849.0 112.8 L850.0 112.5 L851.0 112.3 L852.0 112.1 L853.0 111.9 L854.0 111.7 L855.0 111.4 L856.0 111.2 L857.0 111.0 L858.0 110.8 L859.0 110.6 L860.0 110.4 L861.0 110.2 L862.0 110.0 L863.0 109.8 L864.0 109.6 L865.0 109.4 L866.0 109.2 L867.0 109.1 L868.0 108.9 L869.0 108.7 L870.0 108.5 L871.0 108.4 L872.0 108.2 L873.0 108.0 L874.0 107.9 L875.0 107.7 L876.0 107.6 L877.0 107.5 L878.0 107.3 L879.0 107.2 L880.0 107.1 L881.0 106.9 L882.0 106.8 L883.0 106.7 L884.0 106.6 L885.0 106.5 L886.0 106.4 L887.0 106.3 L888.0 106.2 L889.0 106.1 L890.0 106.1 L891.0 106.0 L892.0 105.9 L893.0 105.9 L894.0 105.8 L895.0 105.8 L896.0 105.8 L897.0 105.7 L898.0 105.7 L899.0 105.7 L900.0 105.7 L900.4 105.7"/>
<path stroke="#d63b22" d="M209.7 77.2 L210.7 76.9 L211.7 76.8 L212.7 76.7 L213.7 76.6 L214.7 76.7 L215.7 76.8 L216.7 76.9 L217.7 77.1 L218.7 77.4 L219.7 77.7 L220.7 78.1 L221.7 78.6 L222.7 79.1 L223.7 79.6 L224.7 80.3 L225.7 80.9 L226.7 81.6 L227.7 82.4 L228.7 83.2 L229.7 84.1 L230.7 85.0 L231.7 85.9 L232.7 86.9 L233.7 88.0 L234.7 89.1 L235.7 90.2 L236.7 91.4 L237.7 92.6 L238.7 93.9 L239.7 95.3 L240.7 96.7 L241.7 98.1 L242.7 99.6 L243.7 101.1 L244.7 102.7 L245.7 104.3 L246.7 106.0 L247.7 107.8 L248.7 109.6 L249.7 111.4 L250.7 113.3 L251.7 115.2 L252.7 117.2 L253.7 119.3 L254.7 121.3 L255.7 123.4 L256.7 125.6 L257.7 127.7 L258.7 129.9 L259.7 132.1 L260.7 134.3 L261.7 136.6 L262.7 138.8 L263.7 141.0 L264.7 143.3 L265.7 145.6 L266.7 147.9 L267.7 150.2 L268.7 152.5 L269.7 154.9 L270.7 157.2 L271.7 159.6 L272.7 162.0 L273.7 164.4 L274.7 166.8 L275.7 169.3 L276.7 171.8 L277.7 174.2 L278.7 176.7 L279.7 179.2 L280.7 181.8 L281.7 184.3 L282.7 186.9 L283.7 189.4 L284.7 192.0 L285.7 194.6 L286.7 197.2 L287.7 199.9 L288.7 202.5 L289.7 205.2 L290.7 207.8 L291.7 210.5 L292.7 213.2 L293.7 215.9 L294.7 218.5 L295.7 221.2 L296.7 223.9 L297.7 226.6 L298.7 229.2 L299.7 231.9 L300.7 234.6 L301.7 237.2 L302.7 239.8 L303.7 242.5 L304.7 245.1 L305.7 247.7 L306.7 250.3 L307.7 252.9 L308.7 255.4 L309.7 258.0 L310.7 260.5 L311.7 263.0 L312.7 265.5 L313.7 267.9 L314.7 270.4 L315.7 272.8 L316.7 275.2 L317.7 277.5 L318.7 279.8 L319.7 282.1 L320.7 284.4 L321.7 286.6 L322.7 288.9 L323.7 291.0 L324.7 293.2 L325.7 295.3 L326.7 297.4 L327.7 299.5 L328.7 301.5 L329.7 303.5 L330.7 305.5 L331.7 307.5 L332.7 309.4 L333.7 311.4 L334.7 313.2 L335.7 315.1 L336.7 316.9 L337.7 318.8 L338.7 320.6 L339.7 322.3 L340.7 324.1 L341.7 325.8 L342.7 327.5 L343.7 329.2 L344.7 330.8 L345.7 332.4 L346.7 334.0 L347.7 335.6 L348.7 337.2 L349.7 338.7 L350.7 340.2 L351.7 341.7 L352.7 343.2 L353.7 344.6 L354.7 346.0 L355.7 347.4 L356.7 348.8 L357.7 350.1 L358.7 351.5 L359.7 352.7 L360.7 354.0 L361.7 355.3 L362.7 356.5 L363.7 357.7 L364.7 358.8 L365.7 360.0 L366.7 361.1 L367.7 362.2 L368.7 363.3 L369.7 364.3 L370.7 365.3 L371.7 366.3 L372.7 367.3 L373.7 368.2 L374.7 369.1 L375.7 370.0 L376.7 370.9 L377.7 371.7 L378.7 372.5 L379.7 373.3 L380.7 374.0 L381.7 374.8 L382.7 375.5 L383.7 376.1 L384.7 376.8 L385.7 377.4 L386.7 378.0 L387.7 378.6 L388.7 379.1 L389.7 379.6 L390.7 380.1 L391.7 380.6 L392.7 381.0 L393.7 381.5 L394.7 381.9 L395.7 382.2 L396.7 382.6 L397.7 382.9 L398.7 383.2 L399.7 383.4 L400.7 383.7 L401.7 383.9 L402.7 384.0 L403.7 384.2 L404.7 384.3 L405.7 384.5 L406.7 384.5 L407.7 384.6 L408.7 384.6 L409.7 384.6 L410.7 384.6 L411.7 384.6 L412.7 384.5 L413.7 384.5 L414.7 384.4 L415.7 384.2 L416.7 384.1 L417.7 383.9 L418.7 383.7 L419.7 383.5 L420.7 383.3 L421.7 383.0 L422.7 382.8 L423.7 382.5 L424.7 382.2 L425.7 381.9 L426.7 381.6 L427.7 381.2 L428.7 380.8 L429.7 380.5 L430.7 380.1 L431.7 379.7 L432.7 379.2 L433.7 378.8 L434.7 378.4 L435.7 377.9 L436.7 377.4 L437.7 377.0 L438.7 376.5 L439.7 376.0 L440.7 375.4 L441.7 374.9 L442.7 374.4 L443.7 373.9 L444.7 373.3 L445.7 372.7 L446.7 372.2 L447.7 371.6 L448.7 371.0 L449.7 370.4 L450.7 369.8 L451.7 369.2 L452.7 368.6 L453.7 368.0 L454.7 367.3 L455.7 366.7 L456.7 366.0 L457.7 365.4 L458.7 364.7 L459.7 364.0 L460.7 363.4 L461.7 362.7 L462.7 362.0 L463.7 361.3 L464.7 360.6 L465.7 359.9 L466.7 359.1 L467.7 358.4 L468.7 357.7 L469.7 356.9 L470.7 356.2 L471.7 355.4 L472.7 354.7 L473.7 353.9 L474.7 353.2 L475.7 352.4 L476.7 351.6 L477.7 350.8 L478.7 350.0 L479.7 349.2 L480.7 348.4 L481.7 347.6 L482.7 346.8 L483.7 346.0 L484.7 345.2 L485.7 344.4 L486.7 343.6 L487.7 342.7 L488.7 341.9 L489.7 341.1 L490.7 340.2 L491.7 339.4 L492.7 338.6 L493.7 337.7 L494.7 336.9 L495.7 336.0 L496.7 335.2 L497.7 334.3 L498.7 333.4 L499.7 332.6 L500.7 331.7 L501.7 330.8 L502.7 330.0 L503.7 329.1 L504.7 328.2 L505.7 327.3 L506.7 326.5 L507.7 325.6 L508.7 324.7 L509.7 323.8 L510.7 322.9 L511.7 322.0 L512.7 321.1 L513.7 320.3 L514.7 319.4 L515.7 318.5 L516.7 317.6 L517.7 316.7 L518.7 315.8 L519.7 314.9 L520.7 314.0 L521.7 313.1 L522.7 312.2 L523.7 311.3 L524.7 310.4 L525.7 309.5 L526.7 308.6 L527.7 307.7 L528.7 306.8 L529.7 305.9 L530.7 305.0 L531.7 304.1 L532.7 303.2 L533.7 302.3 L534.7 301.4 L535.7 300.5 L536.7 299.6 L537.7 298.7 L538.7 297.8 L539.7 296.9 L540.7 296.0 L541.7 295.1 L542.7 294.3 L543.7 293.4 L544.7 292.5 L545.7 291.6 L546.7 290.7 L547.7 289.8 L548.7 289.0 L549.7 288.1 L550.7 287.2 L551.7 286.3 L552.7 285.5 L553.7 284.6 L554.7 283.7 L555.7 282.9 L556.7 282.0 L557.7 281.2 L558.7 280.3 L559.7 279.4 L560.7 278.6 L561.7 277.8 L562.7 276.9 L563.7 276.1 L564.7 275.2 L565.7 274.4 L566.7 273.6 L567.7 272.7 L568.7 271.9 L569.7 271.1 L570.7 270.3 L571.7 269.5 L572.7 268.7 L573.7 267.9 L574.7 267.1 L575.7 266.3 L576.7 265.5 L577.7 264.7 L578.7 263.9 L579.7 263.2 L580.7 262.4 L581.7 261.6 L582.7 260.8 L583.7 260.1 L584.7 259.3 L585.7 258.6 L586.7 257.8 L587.7 257.0 L588.7 256.3 L589.7 255.6 L590.7 254.8 L591.7 254.1 L592.7 253.3 L593.7 252.6 L594.7 251.9 L595.7 251.2 L596.7 250.4 L597.7 249.7 L598.7 249.0 L599.7 248.3 L600.7 247.6 L601.7 246.9 L602.7 246.2 L603.7 245.5 L604.7 244.8 L605.7 244.1 L606.7 243.4 L607.7 242.7 L608.7 242.0 L609.7 241.3 L610.7 240.7 L611.7 240.0 L612.7 239.3 L613.7 238.6 L614.7 238.0 L615.7 237.3 L616.7 236.6 L617.7 236.0 L618.7 235.3 L619.7 234.7 L620.7 234.0 L621.7 233.4 L622.7 232.7 L623.7 232.1 L624.7 231.4 L625.7 230.8 L626.7 230.1 L627.7 229.5 L628.7 228.9 L629.7 228.2 L630.7 227.6 L631.7 227.0 L632.7 226.4 L633.7 225.7 L634.7 225.1 L635.7 224.5 L636.7 223.9 L637.7 223.3 L638.7 222.6 L639.7 222.0 L640.7 221.4 L641.7 220.8 L642.7 220.2 L643.7 219.6 L644.7 219.0 L645.7 218.4 L646.7 217.8 L647.7 217.2 L648.7 216.6 L649.7 216.0 L650.7 215.4 L651.7 214.8 L652.7 214.3 L653.7 213.7 L654.7 213.1 L655.7 212.5 L656.7 211.9 L657.7 211.4 L658.7 210.8 L659.7 210.2 L660.7 209.7 L661.7 209.1 L662.7 208.5 L663.7 208.0 L664.7 207.4 L665.7 206.8 L666.7 206.3 L667.7 205.7 L668.7 205.2 L669.7 204.6 L670.7 204.1 L671.7 203.5 L672.7 203.0 L673.7 202.5 L674.7 201.9 L675.7 201.4 L676.7 200.8 L677.7 200.3 L678.7 199.8 L679.7 199.2 L680.7 198.7 L681.7 198.2 L682.7 197.7 L683.7 197.1 L684.7 196.6 L685.7 196.1 L686.7 195.6 L687.7 195.1 L688.7 194.6 L689.7 194.0 L690.7 193.5 L691.7 193.0 L692.7 192.5 L693.7 192.0 L694.7 191.5 L695.7 191.0 L696.7 190.5 L697.7 190.0 L698.7 189.5 L699.7 189.1 L700.7 188.6 L701.7 188.1 L702.7 187.6 L703.7 187.1 L704.7 186.6 L705.7 186.1 L706.7 185.7 L707.7 185.2 L708.7 184.7 L709.7 184.2 L710.7 183.8 L711.7 183.3 L712.7 182.8 L713.7 182.4 L714.7 181.9 L715.7 181.5 L716.7 181.0 L717.7 180.5 L718.7 180.1 L719.7 179.6 L720.7 179.2 L721.7 178.7 L722.7 178.3 L723.7 177.8 L724.7 177.4 L725.7 176.9 L726.7 176.5 L727.7 176.1 L728.7 175.6 L729.7 175.2 L730.7 174.8 L731.7 174.3 L732.7 173.9 L733.7 173.5 L734.7 173.1 L735.7 172.6 L736.7 172.2 L737.7 171.8 L738.7 171.4 L739.7 171.0 L740.7 170.5 L741.7 170.1 L742.7 169.7 L743.7 169.3 L744.7 168.9 L745.7 168.5 L746.7 168.1 L747.7 167.7 L748.7 167.3 L749.7 166.9 L750.7 166.5 L751.7 166.1 L752.7 165.7 L753.7 165.3 L754.7 164.9 L755.7 164.5 L756.7 164.1 L757.7 163.8 L758.7 163.4 L759.7 163.0 L760.7 162.6 L761.7 162.2 L762.7 161.9 L763.7 161.5 L764.7 161.1 L765.7 160.8 L766.7 160.4 L767.7 160.0 L768.7 159.7 L769.7 159.3 L770.7 158.9 L771.7 158.6 L772.7 158.2 L773.7 157.9 L774.7 157.5 L775.7 157.1 L776.7 156.8 L777.7 156.4 L778.7 156.1 L779.7 155.7 L780.7 155.4 L781.7 155.1 L782.7 154.7 L783.7 154.4 L784.7 154.0 L785.7 153.7 L786.7 153.4 L787.7 153.0 L788.7 152.7 L789.7 152.4 L790.7 152.0 L791.7 151.7 L792.7 151.4 L793.7 151.1 L794.7 150.8 L795.7 150.4 L796.7 150.1 L797.7 149.8 L798.7 149.5 L799.7 149.2 L800.7 148.9 L801.7 148.5 L802.7 148.2 L803.7 147.9 L804.7 147.6 L805.7 147.3 L806.7 147.0 L807.7 146.7 L808.7 146.4 L809.7 146.1 L810.7 145.8 L811.7 145.5 L812.7 145.2 L813.7 145.0 L814.7 144.7 L815.7 144.4 L816.7 144.1 L817.7 143.8 L818.7 143.5 L819.7 143.2 L820.7 143.0 L821.7 142.7 L822.7 142.4 L823.7 142.1 L824.7 141.9 L825.7 141.6 L826.7 141.3 L827.7 141.1 L828.7 140.8 L829.7 140.5 L830.7 140.3 L831.7 140.0 L832.7 139.7 L833.7 139.5 L834.7 139.2 L835.7 139.0 L836.7 138.7 L837.7 138.5 L838.7 138.2 L839.7 137.9 L840.7 137.7 L841.7 137.5 L842.7 137.2 L843.7 137.0 L844.7 136.7 L845.7 136.5 L846.7 136.2 L847.7 136.0 L848.7 135.8 L849.7 135.5 L850.7 135.3 L851.7 135.1 L852.7 134.8 L853.7 134.6 L854.7 134.4 L855.7 134.1 L856.7 133.9 L857.7 133.7 L858.7 133.5 L859.7 133.3 L860.7 133.0 L861.7 132.8 L862.7 132.6 L863.7 132.4 L864.7 132.2 L865.7 132.0 L866.7 131.8 L867.7 131.5 L868.7 131.3 L869.7 131.1 L870.7 130.9 L871.7 130.7 L872.7 130.5 L873.7 130.3 L874.7 130.1 L875.7 129.9 L876.7 129.7 L877.7 129.5 L878.7 129.3 L879.7 129.1 L880.7 129.0 L881.7 128.8 L882.7 128.6 L883.7 128.4 L884.7 128.2 L885.7 128.0 L886.7 127.8 L887.7 127.7 L888.7 127.5 L889.7 127.3 L890.7 127.1 L891.7 127.0 L892.7 126.8 L893.7 126.6 L894.7 126.4 L895.7 126.3 L896.7 126.1 L897.7 125.9 L898.7 125.8 L899.7 125.6 L900.4 125.5"/>
<path stroke="#e1861f" d="M210.0 45.8 L211.0 45.9 L212.0 46.0 L213.0 46.3 L214.0 46.7 L215.0 47.1 L216.0 47.7 L217.0 48.3 L218.0 49.0 L219.0 49.8 L220.0 50.6 L221.0 51.4 L222.0 52.3 L223.0 53.2 L224.0 54.1 L225.0 55.0 L226.0 56.0 L227.0 56.9 L228.0 57.9 L229.0 58.9 L230.0 60.0 L231.0 61.1 L232.0 62.4 L233.0 63.7 L234.0 65.1 L235.0 66.7 L236.0 68.4 L237.0 70.2 L238.0 72.1 L239.0 74.1 L240.0 76.3 L241.0 78.5 L242.0 80.8 L243.0 83.1 L244.0 85.6 L245.0 88.0 L246.0 90.6 L247.0 93.1 L248.0 95.6 L249.0 98.2 L250.0 100.8 L251.0 103.3 L252.0 105.9 L253.0 108.4 L254.0 110.9 L255.0 113.5 L256.0 116.0 L257.0 118.5 L258.0 121.0 L259.0 123.5 L260.0 126.0 L261.0 128.4 L262.0 131.0 L263.0 133.5 L264.0 136.1 L265.0 138.9 L266.0 141.7 L267.0 144.6 L268.0 147.7 L269.0 150.8 L270.0 153.9 L271.0 157.0 L272.0 160.1 L273.0 163.2 L274.0 166.3 L275.0 169.4 L276.0 172.5 L277.0 175.6 L278.0 178.7 L279.0 181.9 L280.0 185.0 L281.0 188.2 L282.0 191.3 L283.0 194.5 L284.0 197.7 L285.0 200.9 L286.0 204.2 L287.0 207.4 L288.0 210.7 L289.0 214.0 L290.0 217.3 L291.0 220.6 L292.0 223.9 L293.0 227.3 L294.0 230.6 L295.0 233.9 L296.0 237.3 L297.0 240.6 L298.0 244.0 L299.0 247.4 L300.0 250.7 L301.0 254.1 L302.0 257.4 L303.0 260.8 L304.0 264.1 L305.0 267.5 L306.0 270.8 L307.0 274.1 L308.0 277.4 L309.0 280.7 L310.0 284.0 L311.0 287.3 L312.0 290.6 L313.0 293.8 L314.0 297.0 L315.0 300.3 L316.0 303.4 L317.0 306.6 L318.0 309.8 L319.0 312.9 L320.0 316.0 L321.0 319.0 L322.0 322.1 L323.0 325.1 L324.0 328.1 L325.0 331.0 L326.0 334.0 L327.0 336.8 L328.0 339.7 L329.0 342.5 L330.0 345.3 L331.0 348.1 L332.0 350.8 L333.0 353.4 L334.0 356.1 L335.0 358.7 L336.0 361.2 L337.0 363.8 L338.0 366.2 L339.0 368.7 L340.0 371.0 L341.0 373.4 L342.0 375.7 L343.0 377.9 L344.0 380.1 L345.0 382.3 L346.0 384.4 L347.0 386.5 L348.0 388.5 L349.0 390.4 L350.0 392.3 L351.0 394.2 L352.0 396.0 L353.0 397.8 L354.0 399.5 L355.0 401.2 L356.0 402.8 L357.0 404.4 L358.0 406.0 L359.0 407.5 L360.0 409.0 L361.0 410.5 L362.0 412.0 L363.0 413.5 L364.0 414.9 L365.0 416.3 L366.0 417.7 L367.0 419.1 L368.0 420.5 L369.0 421.9 L370.0 423.3 L371.0 424.6 L372.0 426.0 L373.0 427.4 L374.0 428.7 L375.0 430.1 L376.0 431.4 L377.0 432.7 L378.0 434.1 L379.0 435.3 L380.0 436.6 L381.0 437.9 L382.0 439.1 L383.0 440.3 L384.0 441.4 L385.0 442.6 L386.0 443.7 L387.0 444.7 L388.0 445.7 L389.0 446.7 L390.0 447.7 L391.0 448.6 L392.0 449.4 L393.0 450.2 L394.0 451.0 L395.0 451.7 L396.0 452.3 L397.0 453.0 L398.0 453.6 L399.0 454.1 L400.0 454.6 L401.0 455.1 L402.0 455.5 L403.0 455.9 L404.0 456.3 L405.0 456.6 L406.0 456.9 L407.0 457.2 L408.0 457.4 L409.0 457.6 L410.0 457.8 L411.0 457.9 L412.0 458.0 L413.0 458.1 L414.0 458.2 L415.0 458.2 L416.0 458.2 L417.0 458.1 L418.0 458.1 L419.0 458.0 L420.0 457.9 L421.0 457.7 L422.0 457.6 L423.0 457.4 L424.0 457.2 L425.0 457.0 L426.0 456.7 L427.0 456.5 L428.0 456.2 L429.0 455.9 L430.0 455.5 L431.0 455.2 L432.0 454.8 L433.0 454.4 L434.0 454.0 L435.0 453.6 L436.0 453.1 L437.0 452.7 L438.0 452.2 L439.0 451.7 L440.0 451.2 L441.0 450.6 L442.0 450.1 L443.0 449.5 L444.0 448.9 L445.0 448.3 L446.0 447.7 L447.0 447.1 L448.0 446.5 L449.0 445.8 L450.0 445.1 L451.0 444.5 L452.0 443.8 L453.0 443.1 L454.0 442.4 L455.0 441.6 L456.0 440.9 L457.0 440.1 L458.0 439.4 L459.0 438.6 L460.0 437.8 L461.0 437.0 L462.0 436.2 L463.0 435.4 L464.0 434.6 L465.0 433.8 L466.0 433.0 L467.0 432.1 L468.0 431.3 L469.0 430.4 L470.0 429.6 L471.0 428.7 L472.0 427.8 L473.0 427.0 L474.0 426.1 L475.0 425.2 L476.0 424.3 L477.0 423.4 L478.0 422.5 L479.0 421.6 L480.0 420.7 L481.0 419.8 L482.0 418.8 L483.0 417.9 L484.0 417.0 L485.0 416.0 L486.0 415.1 L487.0 414.1 L488.0 413.2 L489.0 412.2 L490.0 411.3 L491.0 410.3 L492.0 409.4 L493.0 408.4 L494.0 407.4 L495.0 406.4 L496.0 405.5 L497.0 404.5 L498.0 403.5 L499.0 402.5 L500.0 401.5 L501.0 400.5 L502.0 399.5 L503.0 398.5 L504.0 397.5 L505.0 396.5 L506.0 395.5 L507.0 394.5 L508.0 393.5 L509.0 392.5 L510.0 391.4 L511.0 390.4 L512.0 389.4 L513.0 388.4 L514.0 387.3 L515.0 386.3 L516.0 385.3 L517.0 384.3 L518.0 383.2 L519.0 382.2 L520.0 381.2 L521.0 380.1 L522.0 379.1 L523.0 378.1 L524.0 377.0 L525.0 376.0 L526.0 374.9 L527.0 373.9 L528.0 372.9 L529.0 371.8 L530.0 370.8 L531.0 369.8 L532.0 368.7 L533.0 367.7 L534.0 366.6 L535.0 365.6 L536.0 364.6 L537.0 363.5 L538.0 362.5 L539.0 361.5 L540.0 360.4 L541.0 359.4 L542.0 358.4 L543.0 357.3 L544.0 356.3 L545.0 355.3 L546.0 354.3 L547.0 353.2 L548.0 352.2 L549.0 351.2 L550.0 350.2 L551.0 349.1 L552.0 348.1 L553.0 347.1 L554.0 346.1 L555.0 345.1 L556.0 344.1 L557.0 343.1 L558.0 342.1 L559.0 341.1 L560.0 340.1 L561.0 339.1 L562.0 338.1 L563.0 337.1 L564.0 336.1 L565.0 335.1 L566.0 334.1 L567.0 333.2 L568.0 332.2 L569.0 331.2 L570.0 330.2 L571.0 329.2 L572.0 328.3 L573.0 327.3 L574.0 326.3 L575.0 325.4 L576.0 324.4 L577.0 323.4 L578.0 322.5 L579.0 321.5 L580.0 320.6 L581.0 319.6 L582.0 318.7 L583.0 317.7 L584.0 316.8 L585.0 315.8 L586.0 314.9 L587.0 313.9 L588.0 313.0 L589.0 312.1 L590.0 311.1 L591.0 310.2 L592.0 309.3 L593.0 308.4 L594.0 307.5 L595.0 306.5 L596.0 305.6 L597.0 304.7 L598.0 303.8 L599.0 302.9 L600.0 302.0 L601.0 301.1 L602.0 300.2 L603.0 299.3 L604.0 298.4 L605.0 297.5 L606.0 296.6 L607.0 295.7 L608.0 294.8 L609.0 294.0 L610.0 293.1 L611.0 292.2 L612.0 291.3 L613.0 290.5 L614.0 289.6 L615.0 288.7 L616.0 287.9 L617.0 287.0 L618.0 286.1 L619.0 285.3 L620.0 284.4 L621.0 283.6 L622.0 282.7 L623.0 281.9 L624.0 281.1 L625.0 280.2 L626.0 279.4 L627.0 278.6 L628.0 277.7 L629.0 276.9 L630.0 276.1 L631.0 275.3 L632.0 274.5 L633.0 273.6 L634.0 272.8 L635.0 272.0 L636.0 271.2 L637.0 270.4 L638.0 269.6 L639.0 268.8 L640.0 268.0 L641.0 267.3 L642.0 266.5 L643.0 265.7 L644.0 264.9 L645.0 264.1 L646.0 263.4 L647.0 262.6 L648.0 261.8 L649.0 261.1 L650.0 260.3 L651.0 259.5 L652.0 258.8 L653.0 258.0 L654.0 257.3 L655.0 256.5 L656.0 255.8 L657.0 255.1 L658.0 254.3 L659.0 253.6 L660.0 252.9 L661.0 252.2 L662.0 251.4 L663.0 250.7 L664.0 250.0 L665.0 249.3 L666.0 248.6 L667.0 247.9 L668.0 247.2 L669.0 246.5 L670.0 245.8 L671.0 245.1 L672.0 244.4 L673.0 243.7 L674.0 243.0 L675.0 242.4 L676.0 241.7 L677.0 241.0 L678.0 240.4 L679.0 239.7 L680.0 239.1 L681.0 238.4 L682.0 237.8 L683.0 237.1 L684.0 236.5 L685.0 235.8 L686.0 235.2 L687.0 234.6 L688.0 234.0 L689.0 233.3 L690.0 232.7 L691.0 232.1 L692.0 231.5 L693.0 230.9 L694.0 230.3 L695.0 229.7 L696.0 229.1 L697.0 228.6 L698.0 228.0 L699.0 227.4 L700.0 226.8 L701.0 226.3 L702.0 225.7 L703.0 225.2 L704.0 224.6 L705.0 224.1 L706.0 223.6 L707.0 223.0 L708.0 222.5 L709.0 222.0 L710.0 221.5 L711.0 221.0 L712.0 220.5 L713.0 220.0 L714.0 219.5 L715.0 219.0 L716.0 218.5 L717.0 218.0 L718.0 217.6 L719.0 217.1 L720.0 216.6 L721.0 216.1 L722.0 215.6 L723.0 215.2 L724.0 214.7 L725.0 214.2 L726.0 213.7 L727.0 213.2 L728.0 212.7 L729.0 212.2 L730.0 211.8 L731.0 211.3 L732.0 210.8 L733.0 210.3 L734.0 209.8 L735.0 209.3 L736.0 208.8 L737.0 208.3 L738.0 207.8 L739.0 207.2 L740.0 206.7 L741.0 206.2 L742.0 205.7 L743.0 205.2 L744.0 204.7 L745.0 204.2 L746.0 203.7 L747.0 203.2 L748.0 202.6 L749.0 202.1 L750.0 201.6 L751.0 201.1 L752.0 200.6 L753.0 200.1 L754.0 199.6 L755.0 199.0 L756.0 198.5 L757.0 198.0 L758.0 197.5 L759.0 197.0 L760.0 196.5 L761.0 196.0 L762.0 195.4 L763.0 194.9 L764.0 194.4 L765.0 193.9 L766.0 193.4 L767.0 192.9 L768.0 192.4 L769.0 191.9 L770.0 191.4 L771.0 190.9 L772.0 190.4 L773.0 189.9 L774.0 189.4 L775.0 188.9 L776.0 188.4 L777.0 187.9 L778.0 187.4 L779.0 186.9 L780.0 186.5 L781.0 186.0 L782.0 185.5 L783.0 185.0 L784.0 184.6 L785.0 184.1 L786.0 183.6 L787.0 183.1 L788.0 182.7 L789.0 182.2 L790.0 181.8 L791.0 181.3 L792.0 180.9 L793.0 180.4 L794.0 180.0 L795.0 179.5 L796.0 179.1 L797.0 178.7 L798.0 178.2 L799.0 177.8 L800.0 177.4 L801.0 176.9 L802.0 176.5 L803.0 176.1 L804.0 175.7 L805.0 175.3 L806.0 174.9 L807.0 174.5 L808.0 174.1 L809.0 173.7 L810.0 173.3 L811.0 172.9 L812.0 172.5 L813.0 172.1 L814.0 171.7 L815.0 171.3 L816.0 170.9 L817.0 170.6 L818.0 170.2 L819.0 169.8 L820.0 169.5 L821.0 169.1 L822.0 168.7 L823.0 168.4 L824.0 168.0 L825.0 167.6 L826.0 167.3 L827.0 166.9 L828.0 166.6 L829.0 166.2 L830.0 165.9 L831.0 165.5 L832.0 165.2 L833.0 164.9 L834.0 164.5 L835.0 164.2 L836.0 163.9 L837.0 163.5 L838.0 163.2 L839.0 162.9 L840.0 162.5 L841.0 162.2 L842.0 161.9 L843.0 161.6 L844.0 161.3 L845.0 161.0 L846.0 160.7 L847.0 160.3 L848.0 160.0 L849.0 159.7 L850.0 159.4 L851.0 159.1 L852.0 158.8 L853.0 158.5 L854.0 158.2 L855.0 157.9 L856.0 157.6 L857.0 157.4 L858.0 157.1 L859.0 156.8 L860.0 156.5 L861.0 156.2 L862.0 155.9 L863.0 155.6 L864.0 155.4 L865.0 155.1 L866.0 154.8 L867.0 154.5 L868.0 154.3 L869.0 154.0 L870.0 153.7 L871.0 153.5 L872.0 153.2 L873.0 152.9 L874.0 152.7 L875.0 152.4 L876.0 152.1 L877.0 151.9 L878.0 151.6 L879.0 151.4 L880.0 151.1 L881.0 150.9 L882.0 150.6 L883.0 150.4 L884.0 150.1 L885.0 149.9 L886.0 149.6 L887.0 149.4 L888.0 149.1 L889.0 148.9 L890.0 148.6 L891.0 148.4 L892.0 148.1 L893.0 147.9 L894.0 147.7 L895.0 147.4 L896.0 147.2 L897.0 146.9 L898.0 146.7 L899.0 146.5 L900.0 146.2 L900.4 146.1"/>
<path stroke="#a2cc3a" d="M209.5 24.5 L210.5 25.1 L211.5 25.8 L212.5 26.6 L213.5 27.5 L214.5 28.4 L215.5 29.5 L216.5 30.6 L217.5 31.8 L218.5 33.0 L219.5 34.3 L220.5 35.7 L221.5 37.1 L222.5 38.6 L223.5 40.2 L224.5 41.8 L225.5 43.5 L226.5 45.2 L227.5 46.9 L228.5 48.7 L229.5 50.6 L230.5 52.5 L231.5 54.4 L232.5 56.4 L233.5 58.5 L234.5 60.6 L235.5 62.8 L236.5 65.0 L237.5 67.2 L238.5 69.5 L239.5 71.9 L240.5 74.3 L241.5 76.8 L242.5 79.3 L243.5 81.9 L244.5 84.5 L245.5 87.2 L246.5 89.8 L247.5 92.6 L248.5 95.3 L249.5 98.1 L250.5 100.9 L251.5 103.7 L252.5 106.6 L253.5 109.5 L254.5 112.3 L255.5 115.2 L256.5 118.1 L257.5 121.1 L258.5 124.0 L259.5 127.0 L260.5 130.1 L261.5 133.2 L262.5 136.3 L263.5 139.6 L264.5 142.9 L265.5 146.3 L266.5 149.7 L267.5 153.3 L268.5 156.9 L269.5 160.5 L270.5 164.2 L271.5 167.9 L272.5 171.6 L273.5 175.3 L274.5 179.1 L275.5 182.8 L276.5 186.5 L277.5 190.3 L278.5 194.0 L279.5 197.8 L280.5 201.7 L281.5 205.5 L282.5 209.4 L283.5 213.3 L284.5 217.3 L285.5 221.2 L286.5 225.1 L287.5 229.0 L288.5 232.9 L289.5 236.8 L290.5 240.6 L291.5 244.4 L292.5 248.2 L293.5 252.0 L294.5 255.7 L295.5 259.4 L296.5 263.1 L297.5 266.8 L298.5 270.4 L299.5 274.1 L300.5 277.7 L301.5 281.4 L302.5 285.0 L303.5 288.6 L304.5 292.2 L305.5 295.9 L306.5 299.5 L307.5 303.2 L308.5 306.8 L309.5 310.4 L310.5 314.1 L311.5 317.7 L312.5 321.2 L313.5 324.8 L314.5 328.3 L315.5 331.8 L316.5 335.3 L317.5 338.7 L318.5 342.2 L319.5 345.5 L320.5 348.9 L321.5 352.2 L322.5 355.5 L323.5 358.8 L324.5 362.0 L325.5 365.2 L326.5 368.4 L327.5 371.5 L328.5 374.7 L329.5 377.8 L330.5 380.8 L331.5 383.8 L332.5 386.8 L333.5 389.8 L334.5 392.7 L335.5 395.7 L336.5 398.5 L337.5 401.4 L338.5 404.2 L339.5 407.0 L340.5 409.8 L341.5 412.5 L342.5 415.2 L343.5 417.9 L344.5 420.5 L345.5 423.1 L346.5 425.7 L347.5 428.2 L348.5 430.8 L349.5 433.2 L350.5 435.7 L351.5 438.1 L352.5 440.5 L353.5 442.9 L354.5 445.2 L355.5 447.5 L356.5 449.8 L357.5 452.0 L358.5 454.2 L359.5 456.4 L360.5 458.6 L361.5 460.7 L362.5 462.7 L363.5 464.8 L364.5 466.8 L365.5 468.8 L366.5 470.7 L367.5 472.6 L368.5 474.5 L369.5 476.4 L370.5 478.2 L371.5 480.0 L372.5 481.7 L373.5 483.4 L374.5 485.1 L375.5 486.8 L376.5 488.4 L377.5 490.0 L378.5 491.5 L379.5 493.0 L380.5 494.5 L381.5 495.9 L382.5 497.4 L383.5 498.7 L384.5 500.1 L385.5 501.4 L386.5 502.6 L387.5 503.9 L388.5 505.1 L389.5 506.2 L390.5 507.3 L391.5 508.4 L392.5 509.5 L393.5 510.5 L394.5 511.5 L395.5 512.4 L396.5 513.3 L397.5 514.2 L398.5 515.0 L399.5 515.8 L400.5 516.6 L401.5 517.3 L402.5 518.0 L403.5 518.6 L404.5 519.2 L405.5 519.8 L406.5 520.4 L407.5 520.9 L408.5 521.3 L409.5 521.7 L410.5 522.1 L411.5 522.5 L412.5 522.8 L413.5 523.0 L414.5 523.3 L415.5 523.5 L416.5 523.6 L417.5 523.7 L418.5 523.8 L419.5 523.8 L420.5 523.8 L421.5 523.8 L422.5 523.7 L423.5 523.6 L424.5 523.4 L425.5 523.3 L426.5 523.1 L427.5 522.8 L428.5 522.5 L429.5 522.2 L430.5 521.9 L431.5 521.6 L432.5 521.2 L433.5 520.8 L434.5 520.4 L435.5 520.0 L436.5 519.6 L437.5 519.1 L438.5 518.6 L439.5 518.2 L440.5 517.7 L441.5 517.2 L442.5 516.7 L443.5 516.2 L444.5 515.6 L445.5 515.1 L446.5 514.5 L447.5 514.0 L448.5 513.4 L449.5 512.8 L450.5 512.2 L451.5 511.6 L452.5 511.0 L453.5 510.4 L454.5 509.7 L455.5 509.1 L456.5 508.4 L457.5 507.7 L458.5 507.0 L459.5 506.3 L460.5 505.6 L461.5 504.8 L462.5 504.1 L463.5 503.3 L464.5 502.5 L465.5 501.7 L466.5 500.9 L467.5 500.0 L468.5 499.1 L469.5 498.3 L470.5 497.4 L471.5 496.4 L472.5 495.5 L473.5 494.5 L474.5 493.6 L475.5 492.6 L476.5 491.6 L477.5 490.6 L478.5 489.6 L479.5 488.6 L480.5 487.5 L481.5 486.5 L482.5 485.4 L483.5 484.4 L484.5 483.3 L485.5 482.3 L486.5 481.2 L487.5 480.1 L488.5 479.1 L489.5 478.0 L490.5 476.9 L491.5 475.9 L492.5 474.8 L493.5 473.8 L494.5 472.7 L495.5 471.6 L496.5 470.6 L497.5 469.5 L498.5 468.5 L499.5 467.4 L500.5 466.4 L501.5 465.3 L502.5 464.3 L503.5 463.2 L504.5 462.1 L505.5 461.1 L506.5 460.0 L507.5 458.9 L508.5 457.9 L509.5 456.8 L510.5 455.7 L511.5 454.7 L512.5 453.6 L513.5 452.5 L514.5 451.4 L515.5 450.3 L516.5 449.2 L517.5 448.1 L518.5 447.0 L519.5 445.9 L520.5 444.8 L521.5 443.7 L522.5 442.5 L523.5 441.4 L524.5 440.3 L525.5 439.1 L526.5 438.0 L527.5 436.8 L528.5 435.7 L529.5 434.5 L530.5 433.3 L531.5 432.2 L532.5 431.0 L533.5 429.8 L534.5 428.7 L535.5 427.5 L536.5 426.3 L537.5 425.1 L538.5 423.9 L539.5 422.7 L540.5 421.6 L541.5 420.4 L542.5 419.2 L543.5 418.0 L544.5 416.8 L545.5 415.6 L546.5 414.4 L547.5 413.2 L548.5 412.0 L549.5 410.8 L550.5 409.6 L551.5 408.4 L552.5 407.3 L553.5 406.1 L554.5 404.9 L555.5 403.7 L556.5 402.5 L557.5 401.3 L558.5 400.2 L559.5 399.0 L560.5 397.8 L561.5 396.6 L562.5 395.5 L563.5 394.3 L564.5 393.2 L565.5 392.0 L566.5 390.8 L567.5 389.7 L568.5 388.5 L569.5 387.4 L570.5 386.2 L571.5 385.1 L572.5 384.0 L573.5 382.8 L574.5 381.7 L575.5 380.6 L576.5 379.4 L577.5 378.3 L578.5 377.2 L579.5 376.0 L580.5 374.9 L581.5 373.8 L582.5 372.7 L583.5 371.6 L584.5 370.5 L585.5 369.3 L586.5 368.2 L587.5 367.1 L588.5 366.0 L589.5 364.9 L590.5 363.8 L591.5 362.7 L592.5 361.6 L593.5 360.5 L594.5 359.4 L595.5 358.3 L596.5 357.2 L597.5 356.1 L598.5 355.0 L599.5 354.0 L600.5 352.9 L601.5 351.8 L602.5 350.7 L603.5 349.6 L604.5 348.5 L605.5 347.4 L606.5 346.4 L607.5 345.3 L608.5 344.2 L609.5 343.1 L610.5 342.0 L611.5 341.0 L612.5 339.9 L613.5 338.8 L614.5 337.7 L615.5 336.7 L616.5 335.6 L617.5 334.5 L618.5 333.5 L619.5 332.4 L620.5 331.3 L621.5 330.3 L622.5 329.2 L623.5 328.2 L624.5 327.1 L625.5 326.1 L626.5 325.0 L627.5 324.0 L628.5 322.9 L629.5 321.9 L630.5 320.9 L631.5 319.9 L632.5 318.8 L633.5 317.8 L634.5 316.8 L635.5 315.8 L636.5 314.8 L637.5 313.8 L638.5 312.9 L639.5 311.9 L640.5 310.9 L641.5 310.0 L642.5 309.0 L643.5 308.1 L644.5 307.1 L645.5 306.2 L646.5 305.3 L647.5 304.5 L648.5 303.6 L649.5 302.8 L650.5 302.1 L651.5 301.3 L652.5 300.6 L653.5 299.9 L654.5 299.3 L655.5 298.7 L656.5 298.1 L657.5 297.5 L658.5 296.9 L659.5 296.3 L660.5 295.7 L661.5 295.0 L662.5 294.4 L663.5 293.7 L664.5 292.9 L665.5 292.2 L666.5 291.5 L667.5 290.7 L668.5 289.9 L669.5 289.1 L670.5 288.3 L671.5 287.5 L672.5 286.7 L673.5 285.9 L674.5 285.0 L675.5 284.2 L676.5 283.4 L677.5 282.5 L678.5 281.7 L679.5 280.9 L680.5 280.0 L681.5 279.2 L682.5 278.3 L683.5 277.5 L684.5 276.6 L685.5 275.8 L686.5 274.9 L687.5 274.1 L688.5 273.3 L689.5 272.5 L690.5 271.6 L691.5 270.8 L692.5 270.0 L693.5 269.2 L694.5 268.4 L695.5 267.6 L696.5 266.8 L697.5 266.1 L698.5 265.3 L699.5 264.5 L700.5 263.8 L701.5 263.0 L702.5 262.3 L703.5 261.5 L704.5 260.8 L705.5 260.0 L706.5 259.3 L707.5 258.6 L708.5 257.9 L709.5 257.1 L710.5 256.4 L711.5 255.7 L712.5 255.0 L713.5 254.3 L714.5 253.6 L715.5 253.0 L716.5 252.3 L717.5 251.6 L718.5 250.9 L719.5 250.3 L720.5 249.6 L721.5 248.9 L722.5 248.3 L723.5 247.6 L724.5 247.0 L725.5 246.4 L726.5 245.7 L727.5 245.1 L728.5 244.5 L729.5 243.8 L730.5 243.2 L731.5 242.6 L732.5 242.0 L733.5 241.4 L734.5 240.8 L735.5 240.2 L736.5 239.6 L737.5 239.0 L738.5 238.4 L739.5 237.8 L740.5 237.2 L741.5 236.6 L742.5 236.1 L743.5 235.5 L744.5 234.9 L745.5 234.4 L746.5 233.8 L747.5 233.2 L748.5 232.7 L749.5 232.1 L750.5 231.6 L751.5 231.0 L752.5 230.5 L753.5 229.9 L754.5 229.4 L755.5 228.8 L756.5 228.3 L757.5 227.8 L758.5 227.2 L759.5 226.7 L760.5 226.2 L761.5 225.7 L762.5 225.1 L763.5 224.6 L764.5 224.1 L765.5 223.6 L766.5 223.1 L767.5 222.6 L768.5 222.1 L769.5 221.5 L770.5 221.0 L771.5 220.5 L772.5 220.0 L773.5 219.5 L774.5 219.0 L775.5 218.5 L776.5 218.0 L777.5 217.5 L778.5 217.0 L779.5 216.6 L780.5 216.1 L781.5 215.6 L782.5 215.1 L783.5 214.6 L784.5 214.1 L785.5 213.6 L786.5 213.1 L787.5 212.7 L788.5 212.2 L789.5 211.7 L790.5 211.2 L791.5 210.7 L792.5 210.2 L793.5 209.8 L794.5 209.3 L795.5 208.8 L796.5 208.3 L797.5 207.9 L798.5 207.4 L799.5 206.9 L800.5 206.4 L801.5 205.9 L802.5 205.5 L803.5 205.0 L804.5 204.5 L805.5 204.1 L806.5 203.6 L807.5 203.1 L808.5 202.6 L809.5 202.2 L810.5 201.7 L811.5 201.2 L812.5 200.8 L813.5 200.3 L814.5 199.8 L815.5 199.4 L816.5 198.9 L817.5 198.5 L818.5 198.0 L819.5 197.5 L820.5 197.1 L821.5 196.6 L822.5 196.2 L823.5 195.7 L824.5 195.3 L825.5 194.8 L826.5 194.4 L827.5 193.9 L828.5 193.5 L829.5 193.0 L830.5 192.6 L831.5 192.1 L832.5 191.7 L833.5 191.3 L834.5 190.8 L835.5 190.4 L836.5 190.0 L837.5 189.5 L838.5 189.1 L839.5 188.7 L840.5 188.3 L841.5 187.8 L842.5 187.4 L843.5 187.0 L844.5 186.6 L845.5 186.2 L846.5 185.8 L847.5 185.4 L848.5 185.0 L849.5 184.6 L850.5 184.2 L851.5 183.8 L852.5 183.4 L853.5 183.0 L854.5 182.6 L855.5 182.2 L856.5 181.8 L857.5 181.4 L858.5 181.0 L859.5 180.7 L860.5 180.3 L861.5 179.9 L862.5 179.5 L863.5 179.2 L864.5 178.8 L865.5 178.4 L866.5 178.1 L867.5 177.7 L868.5 177.4 L869.5 177.0 L870.5 176.7 L871.5 176.3 L872.5 176.0 L873.5 175.7 L874.5 175.3 L875.5 175.0 L876.5 174.7 L877.5 174.3 L878.5 174.0 L879.5 173.7 L880.5 173.4 L881.5 173.1 L882.5 172.8 L883.5 172.5 L884.5 172.2 L885.5 171.9 L886.5 171.6 L887.5 171.3 L888.5 171.0 L889.5 170.7 L890.5 170.5 L891.5 170.2 L892.5 169.9 L893.5 169.6 L894.5 169.4 L895.5 169.1 L896.5 168.9 L897.5 168.6 L898.5 168.4 L899.5 168.1 L900.4 167.9"/>
<path stroke="#4a7cc8" d="M209.5 38.3 L210.5 39.3 L211.5 40.4 L212.5 41.4 L213.5 42.4 L214.5 43.3 L215.5 44.3 L216.5 45.2 L217.5 46.2 L218.5 47.2 L219.5 48.1 L220.5 49.1 L221.5 50.2 L222.5 51.2 L223.5 52.3 L224.5 53.5 L225.5 54.7 L226.5 56.0 L227.5 57.3 L228.5 58.7 L229.5 60.2 L230.5 61.8 L231.5 63.5 L232.5 65.2 L233.5 67.1 L234.5 69.0 L235.5 71.0 L236.5 73.1 L237.5 75.2 L238.5 77.4 L239.5 79.6 L240.5 81.9 L241.5 84.2 L242.5 86.6 L243.5 89.0 L244.5 91.4 L245.5 93.9 L246.5 96.4 L247.5 98.9 L248.5 101.4 L249.5 103.9 L250.5 106.5 L251.5 109.1 L252.5 111.7 L253.5 114.3 L254.5 116.9 L255.5 119.5 L256.5 122.2 L257.5 124.9 L258.5 127.7 L259.5 130.5 L260.5 133.5 L261.5 136.5 L262.5 139.6 L263.5 142.8 L264.5 145.9 L265.5 149.1 L266.5 152.3 L267.5 155.5 L268.5 158.6 L269.5 161.8 L270.5 165.1 L271.5 168.3 L272.5 171.6 L273.5 174.9 L274.5 178.3 L275.5 181.7 L276.5 185.1 L277.5 188.7 L278.5 192.3 L279.5 196.0 L280.5 199.9 L281.5 203.9 L282.5 208.1 L283.5 212.3 L284.5 216.6 L285.5 220.9 L286.5 225.3 L287.5 229.7 L288.5 234.1 L289.5 238.5 L290.5 242.9 L291.5 247.2 L292.5 251.5 L293.5 255.7 L294.5 259.9 L295.5 264.2 L296.5 268.4 L297.5 272.6 L298.5 276.7 L299.5 280.9 L300.5 285.1 L301.5 289.4 L302.5 293.6 L303.5 297.8 L304.5 302.1 L305.5 306.3 L306.5 310.5 L307.5 314.7 L308.5 318.9 L309.5 323.1 L310.5 327.3 L311.5 331.4 L312.5 335.5 L313.5 339.6 L314.5 343.6 L315.5 347.6 L316.5 351.6 L317.5 355.5 L318.5 359.3 L319.5 363.2 L320.5 366.9 L321.5 370.7 L322.5 374.3 L323.5 377.9 L324.5 381.5 L325.5 385.0 L326.5 388.4 L327.5 391.8 L328.5 395.1 L329.5 398.3 L330.5 401.5 L331.5 404.7 L332.5 407.7 L333.5 410.8 L334.5 413.7 L335.5 416.7 L336.5 419.5 L337.5 422.4 L338.5 425.1 L339.5 427.9 L340.5 430.5 L341.5 433.2 L342.5 435.7 L343.5 438.3 L344.5 440.8 L345.5 443.2 L346.5 445.6 L347.5 448.0 L348.5 450.3 L349.5 452.6 L350.5 454.9 L351.5 457.1 L352.5 459.3 L353.5 461.4 L354.5 463.5 L355.5 465.6 L356.5 467.7 L357.5 469.7 L358.5 471.7 L359.5 473.7 L360.5 475.6 L361.5 477.5 L362.5 479.4 L363.5 481.3 L364.5 483.1 L365.5 485.0 L366.5 486.8 L367.5 488.6 L368.5 490.4 L369.5 492.1 L370.5 493.9 L371.5 495.6 L372.5 497.4 L373.5 499.1 L374.5 500.8 L375.5 502.4 L376.5 504.1 L377.5 505.7 L378.5 507.4 L379.5 509.0 L380.5 510.5 L381.5 512.1 L382.5 513.6 L383.5 515.1 L384.5 516.6 L385.5 518.1 L386.5 519.5 L387.5 520.9 L388.5 522.3 L389.5 523.7 L390.5 525.0 L391.5 526.3 L392.5 527.6 L393.5 528.8 L394.5 530.0 L395.5 531.2 L396.5 532.3 L397.5 533.4 L398.5 534.5 L399.5 535.5 L400.5 536.5 L401.5 537.4 L402.5 538.3 L403.5 539.2 L404.5 540.1 L405.5 540.9 L406.5 541.6 L407.5 542.4 L408.5 543.1 L409.5 543.8 L410.5 544.4 L411.5 545.0 L412.5 545.6 L413.5 546.1 L414.5 546.6 L415.5 547.1 L416.5 547.5 L417.5 547.9 L418.5 548.3 L419.5 548.7 L420.5 549.0 L421.5 549.3 L422.5 549.5 L423.5 549.8 L424.5 550.0 L425.5 550.2 L426.5 550.3 L427.5 550.4 L428.5 550.5 L429.5 550.6 L430.5 550.6 L431.5 550.7 L432.5 550.6 L433.5 550.6 L434.5 550.5 L435.5 550.5 L436.5 550.4 L437.5 550.2 L438.5 550.1 L439.5 549.9 L440.5 549.7 L441.5 549.5 L442.5 549.2 L443.5 549.0 L444.5 548.7 L445.5 548.4 L446.5 548.1 L447.5 547.7 L448.5 547.4 L449.5 547.0 L450.5 546.6 L451.5 546.2 L452.5 545.7 L453.5 545.3 L454.5 544.8 L455.5 544.3 L456.5 543.8 L457.5 543.3 L458.5 542.7 L459.5 542.2 L460.5 541.6 L461.5 541.0 L462.5 540.4 L463.5 539.7 L464.5 539.1 L465.5 538.4 L466.5 537.8 L467.5 537.1 L468.5 536.4 L469.5 535.6 L470.5 534.9 L471.5 534.1 L472.5 533.3 L473.5 532.6 L474.5 531.8 L475.5 530.9 L476.5 530.1 L477.5 529.2 L478.5 528.4 L479.5 527.5 L480.5 526.6 L481.5 525.7 L482.5 524.8 L483.5 523.8 L484.5 522.9 L485.5 521.9 L486.5 520.9 L487.5 519.9 L488.5 518.9 L489.5 517.9 L490.5 516.8 L491.5 515.8 L492.5 514.7 L493.5 513.6 L494.5 512.5 L495.5 511.4 L496.5 510.3 L497.5 509.2 L498.5 508.1 L499.5 506.9 L500.5 505.8 L501.5 504.6 L502.5 503.4 L503.5 502.3 L504.5 501.1 L505.5 499.9 L506.5 498.7 L507.5 497.5 L508.5 496.3 L509.5 495.1 L510.5 493.9 L511.5 492.7 L512.5 491.5 L513.5 490.3 L514.5 489.1 L515.5 487.8 L516.5 486.6 L517.5 485.4 L518.5 484.2 L519.5 483.0 L520.5 481.8 L521.5 480.6 L522.5 479.4 L523.5 478.2 L524.5 477.0 L525.5 475.8 L526.5 474.6 L527.5 473.4 L528.5 472.2 L529.5 471.0 L530.5 469.8 L531.5 468.6 L532.5 467.4 L533.5 466.2 L534.5 465.0 L535.5 463.9 L536.5 462.7 L537.5 461.5 L538.5 460.3 L539.5 459.1 L540.5 458.0 L541.5 456.8 L542.5 455.6 L543.5 454.4 L544.5 453.3 L545.5 452.1 L546.5 450.9 L547.5 449.7 L548.5 448.6 L549.5 447.4 L550.5 446.2 L551.5 445.1 L552.5 443.9 L553.5 442.7 L554.5 441.6 L555.5 440.4 L556.5 439.2 L557.5 438.0 L558.5 436.9 L559.5 435.7 L560.5 434.5 L561.5 433.4 L562.5 432.2 L563.5 431.0 L564.5 429.8 L565.5 428.7 L566.5 427.5 L567.5 426.3 L568.5 425.2 L569.5 424.0 L570.5 422.8 L571.5 421.6 L572.5 420.4 L573.5 419.3 L574.5 418.1 L575.5 416.9 L576.5 415.7 L577.5 414.5 L578.5 413.3 L579.5 412.2 L580.5 411.0 L581.5 409.8 L582.5 408.6 L583.5 407.4 L584.5 406.2 L585.5 405.0 L586.5 403.8 L587.5 402.6 L588.5 401.4 L589.5 400.2 L590.5 399.0 L591.5 397.8 L592.5 396.5 L593.5 395.3 L594.5 394.1 L595.5 392.9 L596.5 391.7 L597.5 390.5 L598.5 389.2 L599.5 388.0 L600.5 386.8 L601.5 385.6 L602.5 384.4 L603.5 383.2 L604.5 381.9 L605.5 380.7 L606.5 379.5 L607.5 378.3 L608.5 377.1 L609.5 375.9 L610.5 374.7 L611.5 373.5 L612.5 372.3 L613.5 371.2 L614.5 370.0 L615.5 368.8 L616.5 367.6 L617.5 366.5 L618.5 365.3 L619.5 364.1 L620.5 363.0 L621.5 361.9 L622.5 360.7 L623.5 359.6 L624.5 358.5 L625.5 357.4 L626.5 356.3 L627.5 355.2 L628.5 354.1 L629.5 353.0 L630.5 351.9 L631.5 350.9 L632.5 349.8 L633.5 348.8 L634.5 347.8 L635.5 346.7 L636.5 345.7 L637.5 344.7 L638.5 343.7 L639.5 342.7 L640.5 341.7 L641.5 340.7 L642.5 339.8 L643.5 338.8 L644.5 337.8 L645.5 336.9 L646.5 335.9 L647.5 335.0 L648.5 334.1 L649.5 333.1 L650.5 332.2 L651.5 331.3 L652.5 330.4 L653.5 329.4 L654.5 328.5 L655.5 327.6 L656.5 326.7 L657.5 325.8 L658.5 324.9 L659.5 324.0 L660.5 323.1 L661.5 322.2 L662.5 321.3 L663.5 320.4 L664.5 319.6 L665.5 318.7 L666.5 317.8 L667.5 316.9 L668.5 316.0 L669.5 315.2 L670.5 314.3 L671.5 313.4 L672.5 312.5 L673.5 311.7 L674.5 310.8 L675.5 309.9 L676.5 309.1 L677.5 308.2 L678.5 307.4 L679.5 306.5 L680.5 305.6 L681.5 304.8 L682.5 303.9 L683.5 303.1 L684.5 302.2 L685.5 301.4 L686.5 300.5 L687.5 299.7 L688.5 298.8 L689.5 298.0 L690.5 297.1 L691.5 296.3 L692.5 295.5 L693.5 294.6 L694.5 293.8 L695.5 292.9 L696.5 292.1 L697.5 291.3 L698.5 290.4 L699.5 289.6 L700.5 288.8 L701.5 287.9 L702.5 287.1 L703.5 286.3 L704.5 285.4 L705.5 284.6 L706.5 283.8 L707.5 282.9 L708.5 282.1 L709.5 281.3 L710.5 280.4 L711.5 279.6 L712.5 278.8 L713.5 278.0 L714.5 277.1 L715.5 276.3 L716.5 275.5 L717.5 274.7 L718.5 274.0 L719.5 273.2 L720.5 272.4 L721.5 271.7 L722.5 271.0 L723.5 270.2 L724.5 269.6 L725.5 268.9 L726.5 268.2 L727.5 267.6 L728.5 267.0 L729.5 266.4 L730.5 265.9 L731.5 265.4 L732.5 264.9 L733.5 264.4 L734.5 264.0 L735.5 263.6 L736.5 263.2 L737.5 262.9 L738.5 262.6 L739.5 262.3 L740.5 262.0 L741.5 261.7 L742.5 261.3 L743.5 261.0 L744.5 260.7 L745.5 260.3 L746.5 259.8 L747.5 259.4 L748.5 258.9 L749.5 258.4 L750.5 257.9 L751.5 257.3 L752.5 256.7 L753.5 256.1 L754.5 255.5 L755.5 254.8 L756.5 254.1 L757.5 253.4 L758.5 252.7 L759.5 252.0 L760.5 251.2 L761.5 250.4 L762.5 249.6 L763.5 248.8 L764.5 248.0 L765.5 247.2 L766.5 246.3 L767.5 245.5 L768.5 244.6 L769.5 243.8 L770.5 242.9 L771.5 242.0 L772.5 241.1 L773.5 240.2 L774.5 239.3 L775.5 238.4 L776.5 237.5 L777.5 236.6 L778.5 235.8 L779.5 234.9 L780.5 234.1 L781.5 233.3 L782.5 232.6 L783.5 231.9 L784.5 231.3 L785.5 230.7 L786.5 230.2 L787.5 229.8 L788.5 229.5 L789.5 229.2 L790.5 229.1 L791.5 229.1 L792.5 229.1 L793.5 229.3 L794.5 229.4 L795.5 229.5 L796.5 229.5 L797.5 229.4 L798.5 229.2 L799.5 228.9 L800.5 228.4 L801.5 227.9 L802.5 227.4 L803.5 226.9 L804.5 226.3 L805.5 225.8 L806.5 225.2 L807.5 224.7 L808.5 224.1 L809.5 223.5 L810.5 223.0 L811.5 222.4 L812.5 221.8 L813.5 221.2 L814.5 220.7 L815.5 220.1 L816.5 219.5 L817.5 218.9 L818.5 218.3 L819.5 217.7 L820.5 217.1 L821.5 216.5 L822.5 215.9 L823.5 215.3 L824.5 214.7 L825.5 214.0 L826.5 213.4 L827.5 212.8 L828.5 212.1 L829.5 211.5 L830.5 210.9 L831.5 210.2 L832.5 209.6 L833.5 208.9 L834.5 208.2 L835.5 207.6 L836.5 206.9 L837.5 206.2 L838.5 205.6 L839.5 204.9 L840.5 204.2 L841.5 203.5 L842.5 202.8 L843.5 202.1 L844.5 201.4 L845.5 200.7 L846.5 200.0 L847.5 199.3 L848.5 198.6 L849.5 197.9 L850.5 197.1 L851.5 196.4 L852.5 195.6 L853.5 194.9 L854.5 194.1 L855.5 193.3 L856.5 192.4 L857.5 191.5 L858.5 190.5 L859.5 189.5 L860.5 188.5 L861.5 187.4 L862.5 186.5 L863.5 185.9 L864.5 185.6 L865.5 185.6 L866.5 185.6 L867.5 185.7 L868.5 185.8 L869.5 186.1 L870.5 186.3 L871.5 186.6 L872.5 186.8 L873.5 187.0 L874.5 187.2 L875.5 187.3 L876.5 187.4 L877.5 187.5 L878.5 187.5 L879.5 187.5 L880.5 187.5 L881.5 187.4 L882.5 187.3 L883.5 187.2 L884.5 187.1 L885.5 186.9 L886.5 186.7 L887.5 186.5 L888.5 186.2 L889.5 186.0 L890.5 185.7 L891.5 185.4 L892.5 185.1 L893.5 184.7 L894.5 184.4 L895.5 184.1 L896.5 183.7 L897.5 183.3 L898.5 183.0 L899.5 182.6 L900.4 182.3"/>
</g>
<g stroke="#000" stroke-width="2.50" fill="none" stroke-linecap="butt">
<rect x="142.75" y="1.05" width="790.55" height="559.70"/>
<g stroke-width="2.25">
<line x1="300.86" y1="560.75" x2="300.86" y2="543.55"/>
<line x1="300.86" y1="1.05" x2="300.86" y2="18.75"/>
<line x1="458.97" y1="560.75" x2="458.97" y2="543.55"/>
<line x1="458.97" y1="1.05" x2="458.97" y2="18.75"/>
<line x1="617.08" y1="560.75" x2="617.08" y2="543.55"/>
<line x1="617.08" y1="1.05" x2="617.08" y2="18.75"/>
<line x1="775.19" y1="560.75" x2="775.19" y2="543.55"/>
<line x1="775.19" y1="1.05" x2="775.19" y2="18.75"/>
<line x1="142.75" y1="44.10" x2="159.95" y2="44.10"/>
<line x1="933.30" y1="44.10" x2="916.10" y2="44.10"/>
<line x1="142.75" y1="130.21" x2="159.95" y2="130.21"/>
<line x1="933.30" y1="130.21" x2="916.10" y2="130.21"/>
<line x1="142.75" y1="216.32" x2="159.95" y2="216.32"/>
<line x1="933.30" y1="216.32" x2="916.10" y2="216.32"/>
<line x1="142.75" y1="302.43" x2="159.95" y2="302.43"/>
<line x1="933.30" y1="302.43" x2="916.10" y2="302.43"/>
<line x1="142.75" y1="388.53" x2="159.95" y2="388.53"/>
<line x1="933.30" y1="388.53" x2="916.10" y2="388.53"/>
<line x1="142.75" y1="474.64" x2="159.95" y2="474.64"/>
<line x1="933.30" y1="474.64" x2="916.10" y2="474.64"/>
</g></g>
<g font-size="32.70">
<text transform="translate(133.70 55.85) scale(1 1.040)" text-anchor="end">0</text>
<text transform="translate(133.70 141.96) scale(1 1.040)" text-anchor="end">-2</text>
<text transform="translate(133.70 228.07) scale(1 1.040)" text-anchor="end">-4</text>
<text transform="translate(133.70 314.17) scale(1 1.040)" text-anchor="end">-6</text>
<text transform="translate(133.70 400.28) scale(1 1.040)" text-anchor="end">-8</text>
<text transform="translate(133.70 486.39) scale(1 1.040)" text-anchor="end">-10</text>
<text transform="translate(133.70 572.50) scale(1 1.040)" text-anchor="end">-12</text>
<text transform="translate(142.45 600.40) scale(1 1.040)" text-anchor="middle">0</text>
<text transform="translate(300.56 600.40) scale(1 1.040)" text-anchor="middle">10</text>
<text transform="translate(458.67 600.40) scale(1 1.040)" text-anchor="middle">20</text>
<text transform="translate(616.78 600.40) scale(1 1.040)" text-anchor="middle">30</text>
<text transform="translate(774.89 600.40) scale(1 1.040)" text-anchor="middle">40</text>
<text transform="translate(933.00 600.40) scale(1 1.040)" text-anchor="middle">50</text>
<text transform="translate(538.20 672.30) scale(1 1.040)" text-anchor="middle">T (K)</text>
<text transform="translate(38.00 281.20) rotate(-90) scale(1 1.040)" text-anchor="middle" letter-spacing="-0.15">dM/dT (x10<tspan font-size="22.89" dy="-20.67">-3</tspan><tspan dy="20.67"> μ</tspan><tspan font-size="22.89" dy="7.21">B</tspan><tspan dy="-7.21">/K)</tspan></text>
<text transform="translate(831.30 268.70) scale(1 1.040)" text-anchor="start">1 T</text>
<text transform="translate(831.30 304.85) scale(1 1.040)" text-anchor="start">2</text>
<text transform="translate(831.30 341.00) scale(1 1.040)" text-anchor="start">3</text>
<text transform="translate(831.30 377.15) scale(1 1.040)" text-anchor="start">4</text>
<text transform="translate(831.30 413.30) scale(1 1.040)" text-anchor="start">5</text>
<text transform="translate(831.30 449.45) scale(1 1.040)" text-anchor="start">6</text>
<text transform="translate(831.30 485.60) scale(1 1.040)" text-anchor="start">7</text>
<text transform="translate(625.40 469.80) scale(1 1.040)" text-anchor="start">UTe<tspan font-size="22.89" dy="6.73">2</tspan></text>
<text transform="translate(625.70 510.20) scale(1 1.040)" text-anchor="start" textLength="143.6" lengthAdjust="spacing">H || a-axis</text>
</g>
<line x1="815.3" y1="280.7" x2="815.3" y2="430" stroke="#000" stroke-width="2.1"/>
<polygon points="810,427 820.7,427 815.35,447.6" fill="#000"/>
</svg></body></html>
